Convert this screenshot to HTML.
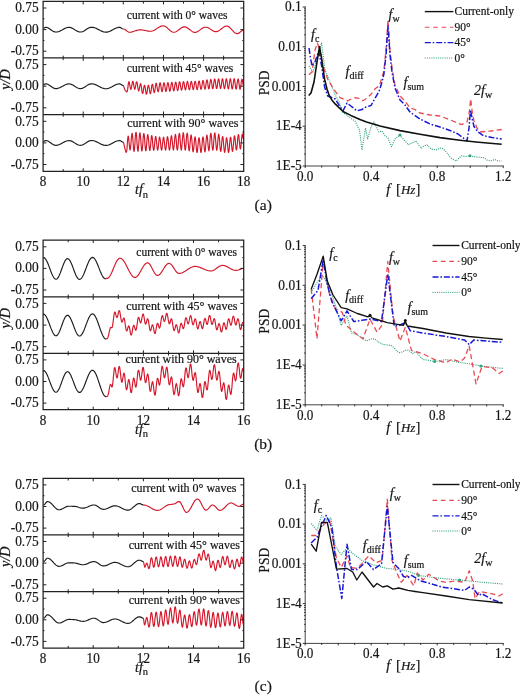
<!DOCTYPE html>
<html lang="en">
<head>
<meta charset="utf-8">
<title>Figure: y/D time histories and PSD</title>
<style>
html,body{margin:0;padding:0;background:#fff;}
body{width:520px;height:696px;overflow:hidden;}
svg{display:block;filter:blur(0.5px);}
text{font-family:"Liberation Serif", "DejaVu Serif", serif;fill:#161616;stroke:#161616;stroke-width:0.2px;}
.t13{font-size:13.4px;}
.t115{font-size:11.5px;}
.t15{font-size:15.5px;}
</style>
</head>
<body>
<svg width="520" height="696" viewBox="0 0 520 696">
<rect width="520" height="696" fill="#ffffff"/>
<path d="M43.5 28.3L44.2 28L44.9 27.5L45.6 27.3L46.3 27.3L47 27.5L47.7 27.8L48.4 28.1L49.1 28.5L49.8 29L50.5 29.5L51.2 30L51.9 30.5L52.6 30.9L53.3 31.3L54 31.6L54.7 31.9L55.4 32L56.1 32L56.8 32L57.5 31.9L58.2 31.7L58.9 31.5L59.6 31.2L60.3 30.9L61 30.5L61.7 30.2L62.4 29.8L63.1 29.4L63.8 29L64.5 28.6L65.2 28.3L65.9 28L66.6 27.7L67.3 27.5L68 27.4L68.7 27.4L69.4 27.4L70.1 27.5L70.8 27.6L71.5 27.9L72.2 28.2L72.9 28.6L73.6 29L74.3 29.4L75 29.9L75.7 30.3L76.4 30.7L77.1 31.1L77.8 31.4L78.5 31.7L79.2 31.9L79.9 32L80.6 32L81.3 32L82 31.8L82.7 31.6L83.4 31.3L84.1 30.9L84.8 30.5L85.5 30L86.2 29.5L86.9 29L87.6 28.6L88.3 28.2L89 27.8L89.7 27.6L90.4 27.4L91.1 27.3L91.8 27.3L92.5 27.3L93.2 27.4L93.9 27.6L94.6 27.8L95.3 28L96 28.3L96.7 28.6L97.4 29L98.1 29.4L98.8 29.7L99.5 30.1L100.2 30.5L100.9 30.8L101.6 31.1L102.3 31.4L103 31.7L103.7 31.9L104.4 32L105.1 32.1L105.8 32.1L106.5 32.1L107.2 32.1L107.9 31.9L108.6 31.7L109.3 31.5L110 31.2L110.7 30.9L111.4 30.5L112.1 30.1L112.8 29.7L113.5 29.3L114.2 29L114.9 28.6L115.6 28.3L116.3 28L117 27.7L117.7 27.6L118.4 27.4L119.1 27.4L119.8 27.4L120.5 27.6L121.2 28L121.9 28.5L122.6 28.8L123.3 29L123.5 29" fill="none" stroke="#1c1c1c" stroke-width="1.15" stroke-linejoin="round"/>
<path d="M123.5 29L124.2 29.2L124.9 29.5L125.6 30L126.3 30.5L127 31.1L127.7 31.6L128.4 32L129.1 32.2L129.8 32.2L130.5 32.2L131.2 32.1L131.9 31.9L132.6 31.7L133.3 31.5L134 31.3L134.7 31L135.4 30.8L136.1 30.6L136.8 30.4L137.5 30.2L138.2 30L138.9 29.9L139.6 29.9L140.3 29.9L141 29.9L141.7 29.9L142.4 30L143.1 30.1L143.8 30.2L144.5 30.4L145.2 30.5L145.9 30.7L146.6 30.8L147.3 30.9L148 31.1L148.7 31.1L149.4 31.2L150.1 31.2L150.8 31.2L151.5 31.2L152.2 31L152.9 30.8L153.6 30.5L154.3 30.2L155 29.8L155.7 29.3L156.4 28.9L157.1 28.4L157.8 27.9L158.5 27.5L159.2 27.1L159.9 26.7L160.6 26.4L161.3 26.1L162 26L162.7 25.9L163.4 25.9L164.1 26L164.8 26.2L165.5 26.6L166.2 27L166.9 27.6L167.6 28.2L168.3 28.9L169 29.5L169.7 30.2L170.4 30.8L171.1 31.3L171.8 31.7L172.5 32L173.2 32.2L173.9 32.2L174.6 32.2L175.3 32L176 31.7L176.7 31.3L177.4 30.9L178.1 30.3L178.8 29.8L179.5 29.2L180.2 28.7L180.9 28.2L181.6 27.7L182.3 27.4L183 27.1L183.7 26.9L184.4 26.8L185.1 26.9L185.8 27.1L186.5 27.4L187.2 27.7L187.9 28.2L188.6 28.7L189.3 29.3L190 29.8L190.7 30.4L191.4 30.9L192.1 31.4L192.8 31.8L193.5 32.1L194.2 32.3L194.9 32.3L195.6 32.3L196.3 32.2L197 31.9L197.7 31.5L198.4 31.1L199.1 30.6L199.8 30.1L200.5 29.6L201.2 29L201.9 28.5L202.6 28.1L203.3 27.7L204 27.4L204.7 27.2L205.4 27.2L206.1 27.2L206.8 27.3L207.5 27.5L208.2 27.8L208.9 28.2L209.6 28.6L210.3 29.1L211 29.6L211.7 30L212.4 30.5L213.1 30.9L213.8 31.2L214.5 31.4L215.2 31.6L215.9 31.6L216.6 31.6L217.3 31.4L218 31.2L218.7 30.8L219.4 30.4L220.1 29.9L220.8 29.3L221.5 28.7L222.2 28.2L222.9 27.6L223.6 27.1L224.3 26.7L225 26.4L225.7 26.2L226.4 26.1L227.1 26.1L227.8 26.3L228.5 26.6L229.2 27L229.9 27.6L230.6 28.3L231.3 29.1L232 29.9L232.7 30.6L233.4 31.4L234.1 32.1L234.8 32.7L235.5 33.1L236.2 33.4L236.9 33.6L237.6 33.6L238.3 33.4L239 33.1L239.7 32.5L240.4 31.9L241.1 31.3L241.8 30.8L242.5 30.4L243.2 30.1L243.7 30" fill="none" stroke="#d4162a" stroke-width="1.15" stroke-linejoin="round"/>
<path d="M43.5 84.9L44.2 84.6L44.9 84L45.6 83.8L46.3 83.9L47 84L47.7 84.3L48.4 84.6L49.1 85.1L49.8 85.5L50.5 86L51.2 86.5L51.9 87L52.6 87.5L53.3 87.9L54 88.2L54.7 88.4L55.4 88.6L56.1 88.6L56.8 88.6L57.5 88.4L58.2 88.3L58.9 88L59.6 87.8L60.3 87.4L61 87.1L61.7 86.7L62.4 86.3L63.1 85.9L63.8 85.5L64.5 85.2L65.2 84.8L65.9 84.5L66.6 84.3L67.3 84.1L68 84L68.7 83.9L69.4 83.9L70.1 84L70.8 84.2L71.5 84.4L72.2 84.7L72.9 85.1L73.6 85.5L74.3 86L75 86.4L75.7 86.9L76.4 87.3L77.1 87.7L77.8 88L78.5 88.3L79.2 88.5L79.9 88.6L80.6 88.6L81.3 88.5L82 88.4L82.7 88.1L83.4 87.8L84.1 87.4L84.8 87L85.5 86.5L86.2 86.1L86.9 85.6L87.6 85.1L88.3 84.7L89 84.4L89.7 84.1L90.4 83.9L91.1 83.8L91.8 83.8L92.5 83.9L93.2 84L93.9 84.1L94.6 84.3L95.3 84.6L96 84.9L96.7 85.2L97.4 85.5L98.1 85.9L98.8 86.3L99.5 86.6L100.2 87L100.9 87.4L101.6 87.7L102.3 88L103 88.2L103.7 88.4L104.4 88.6L105.1 88.7L105.8 88.7L106.5 88.7L107.2 88.6L107.9 88.5L108.6 88.3L109.3 88L110 87.7L110.7 87.4L111.4 87L112.1 86.7L112.8 86.3L113.5 85.9L114.2 85.5L114.9 85.1L115.6 84.8L116.3 84.5L117 84.3L117.7 84.1L118.4 84L119.1 83.9L119.8 83.9L120.5 84.1L121.2 84.6L121.9 85L122.6 85.4L123.3 85.6L123.5 85.6" fill="none" stroke="#1c1c1c" stroke-width="1.15" stroke-linejoin="round"/>
<path d="M123.1 85.6L123.4 85.8L123.7 86.2L123.9 86.9L124.2 87.7L124.5 88.6L124.8 89.4L125.1 90.1L125.3 90.6L125.6 90.9L125.9 91.1L126.2 91.3L126.5 91.6L126.7 91.9L127 91.8L127.3 91.1L127.6 89.7L127.9 87.7L128.1 85.4L128.4 83.4L128.7 82.1L129 81.7L129.3 82.3L129.5 83.6L129.8 85.2L130.1 86.9L130.4 88.4L130.7 89.2L130.9 89.4L131.2 88.7L131.5 87.4L131.8 85.7L132.1 83.9L132.3 82.4L132.6 81.5L132.9 81.3L133.2 81.9L133.4 83.2L133.7 84.9L134 86.7L134.3 88.2L134.6 89.1L134.8 89.3L135.1 88.6L135.4 87.4L135.7 85.7L136 83.9L136.2 82.5L136.5 81.7L136.8 81.7L137.1 82.5L137.4 84L137.6 86L137.9 88L138.2 89.7L138.5 90.8L138.8 91L139 90.4L139.3 89.2L139.6 87.5L139.9 85.7L140.2 84.3L140.4 83.6L140.7 83.7L141 84.7L141.3 86.3L141.6 88.4L141.8 90.5L142.1 92.2L142.4 93.3L142.7 93.4L143 92.7L143.2 91.3L143.5 89.4L143.8 87.6L144.1 86.1L144.4 85.3L144.6 85.3L144.9 86.2L145.2 87.8L145.5 89.8L145.8 91.8L146 93.3L146.3 94.2L146.6 94.2L146.9 93.2L147.2 91.6L147.4 89.6L147.7 87.6L148 86.1L148.3 85.2L148.6 85.2L148.8 86.1L149.1 87.6L149.4 89.5L149.7 91.4L150 92.9L150.2 93.6L150.5 93.5L150.8 92.5L151.1 90.8L151.4 88.7L151.6 86.7L151.9 85.1L152.2 84.3L152.5 84.3L152.8 85.2L153 86.7L153.3 88.6L153.6 90.5L153.9 91.9L154.1 92.6L154.4 92.4L154.7 91.3L155 89.6L155.3 87.5L155.5 85.6L155.8 84L156.1 83.2L156.4 83.3L156.7 84.3L156.9 85.9L157.2 87.8L157.5 89.7L157.8 91.1L158.1 91.8L158.3 91.6L158.6 90.5L158.9 88.8L159.2 86.8L159.5 84.9L159.7 83.4L160 82.7L160.3 82.9L160.6 84L160.9 85.7L161.1 87.7L161.4 89.6L161.7 91L162 91.7L162.3 91.4L162.5 90.3L162.8 88.6L163.1 86.6L163.4 84.7L163.7 83.3L163.9 82.7L164.2 82.9L164.5 84L164.8 85.7L165.1 87.7L165.3 89.6L165.6 90.9L165.9 91.5L166.2 91.2L166.5 90.1L166.7 88.4L167 86.4L167.3 84.5L167.6 83.1L167.9 82.5L168.1 82.8L168.4 83.9L168.7 85.6L169 87.6L169.3 89.4L169.5 90.7L169.8 91.3L170.1 90.9L170.4 89.8L170.7 88L170.9 86L171.2 84.2L171.5 82.8L171.8 82.3L172.1 82.6L172.3 83.8L172.6 85.5L172.9 87.4L173.2 89.2L173.4 90.5L173.7 90.9L174 90.5L174.3 89.3L174.6 87.6L174.8 85.6L175.1 83.8L175.4 82.5L175.7 82L176 82.4L176.2 83.6L176.5 85.3L176.8 87.2L177.1 89L177.4 90.2L177.6 90.6L177.9 90.1L178.2 88.9L178.5 87.1L178.8 85.2L179 83.4L179.3 82.2L179.6 81.8L179.9 82.2L180.2 83.4L180.4 85.1L180.7 87L181 88.7L181.3 89.8L181.6 90.2L181.8 89.7L182.1 88.5L182.4 86.7L182.7 84.8L183 83.1L183.2 81.9L183.5 81.6L183.8 82L184.1 83.2L184.4 85L184.6 86.8L184.9 88.5L185.2 89.6L185.5 89.9L185.8 89.4L186 88.1L186.3 86.4L186.6 84.5L186.9 82.8L187.2 81.7L187.4 81.4L187.7 81.9L188 83.2L188.3 84.9L188.6 86.8L188.8 88.4L189.1 89.5L189.4 89.7L189.7 89.2L190 87.9L190.2 86.1L190.5 84.3L190.8 82.6L191.1 81.6L191.4 81.3L191.6 81.9L191.9 83.2L192.2 84.9L192.5 86.8L192.8 88.4L193 89.4L193.3 89.7L193.6 89.1L193.9 87.8L194.1 86L194.4 84.1L194.7 82.5L195 81.5L195.3 81.3L195.5 81.9L195.8 83.2L196.1 85L196.4 86.8L196.7 88.4L196.9 89.4L197.2 89.6L197.5 88.9L197.8 87.5L198.1 85.7L198.3 83.8L198.6 82.2L198.9 81.2L199.2 81L199.5 81.6L199.7 83L200 84.8L200.3 86.7L200.6 88.3L200.9 89.2L201.1 89.4L201.4 88.6L201.7 87.2L202 85.3L202.3 83.3L202.5 81.6L202.8 80.6L203.1 80.5L203.4 81.2L203.7 82.6L203.9 84.5L204.2 86.5L204.5 88.1L204.8 89L205.1 89.1L205.3 88.3L205.6 86.8L205.9 84.8L206.2 82.7L206.5 81L206.7 80L207 79.9L207.3 80.7L207.6 82.2L207.9 84.2L208.1 86.2L208.4 87.9L208.7 88.8L209 88.8L209.3 87.9L209.5 86.3L209.8 84.2L210.1 82.1L210.4 80.4L210.7 79.5L210.9 79.4L211.2 80.3L211.5 81.9L211.8 84L212.1 86L212.3 87.7L212.6 88.6L212.9 88.6L213.2 87.6L213.4 85.9L213.7 83.8L214 81.7L214.3 80L214.6 79L214.8 79.1L215.1 80L215.4 81.7L215.7 83.9L216 86L216.2 87.6L216.5 88.5L216.8 88.5L217.1 87.4L217.4 85.7L217.6 83.5L217.9 81.4L218.2 79.8L218.5 78.9L218.8 79L219 80L219.3 81.8L219.6 83.9L219.9 86L220.2 87.7L220.4 88.5L220.7 88.4L221 87.4L221.3 85.6L221.6 83.4L221.8 81.3L222.1 79.7L222.4 78.8L222.7 79L223 80.1L223.2 81.9L223.5 84.1L223.8 86.2L224.1 87.9L224.4 88.7L224.6 88.5L224.9 87.4L225.2 85.6L225.5 83.3L225.8 81.2L226 79.6L226.3 78.8L226.6 79L226.9 80.2L227.2 82.1L227.4 84.3L227.7 86.5L228 88.1L228.3 88.9L228.6 88.7L228.8 87.5L229.1 85.5L229.4 83.3L229.7 81.1L230 79.5L230.2 78.7L230.5 79L230.8 80.3L231.1 82.2L231.4 84.5L231.6 86.7L231.9 88.3L232.2 89L232.5 88.7L232.8 87.5L233 85.5L233.3 83.2L233.6 81L233.9 79.4L234.1 78.7L234.4 79L234.7 80.3L235 82.4L235.3 84.7L235.5 86.8L235.8 88.4L236.1 89.1L236.4 88.7L236.7 87.4L236.9 85.4L237.2 83.1L237.5 81L237.8 79.5L238.1 78.9L238.3 79.3L238.6 80.6L238.9 82.7L239.2 84.9L239.5 87.1L239.7 88.6L240 89.2L240.3 88.8L240.6 87.4L240.9 85.5L241.1 83.2L241.4 81.2L241.7 79.7L242 79.2L242.3 79.6L242.5 81L242.8 83L243.1 85.2" fill="none" stroke="#d4162a" stroke-width="1.15" stroke-linejoin="round"/>
<path d="M43.5 141.6L44.2 141.3L44.9 140.7L45.6 140.5L46.3 140.6L47 140.7L47.7 141L48.4 141.3L49.1 141.8L49.8 142.2L50.5 142.7L51.2 143.2L51.9 143.7L52.6 144.2L53.3 144.6L54 144.9L54.7 145.1L55.4 145.3L56.1 145.3L56.8 145.3L57.5 145.1L58.2 145L58.9 144.7L59.6 144.5L60.3 144.1L61 143.8L61.7 143.4L62.4 143L63.1 142.6L63.8 142.2L64.5 141.9L65.2 141.5L65.9 141.2L66.6 141L67.3 140.8L68 140.7L68.7 140.6L69.4 140.6L70.1 140.7L70.8 140.9L71.5 141.1L72.2 141.4L72.9 141.8L73.6 142.2L74.3 142.7L75 143.1L75.7 143.6L76.4 144L77.1 144.4L77.8 144.7L78.5 145L79.2 145.2L79.9 145.3L80.6 145.3L81.3 145.2L82 145.1L82.7 144.8L83.4 144.5L84.1 144.1L84.8 143.7L85.5 143.2L86.2 142.8L86.9 142.3L87.6 141.8L88.3 141.4L89 141.1L89.7 140.8L90.4 140.6L91.1 140.5L91.8 140.5L92.5 140.6L93.2 140.7L93.9 140.8L94.6 141L95.3 141.3L96 141.6L96.7 141.9L97.4 142.2L98.1 142.6L98.8 143L99.5 143.3L100.2 143.7L100.9 144.1L101.6 144.4L102.3 144.7L103 144.9L103.7 145.1L104.4 145.3L105.1 145.4L105.8 145.4L106.5 145.4L107.2 145.3L107.9 145.2L108.6 145L109.3 144.7L110 144.4L110.7 144.1L111.4 143.7L112.1 143.4L112.8 143L113.5 142.6L114.2 142.2L114.9 141.8L115.6 141.5L116.3 141.2L117 141L117.7 140.8L118.4 140.7L119.1 140.6L119.8 140.6L120.5 140.8L121.2 141.3L121.9 141.7L122.6 142.1L123.3 142.3L123.5 142.3" fill="none" stroke="#1c1c1c" stroke-width="1.15" stroke-linejoin="round"/>
<path d="M123.1 142.3L123.4 142.5L123.7 143.2L123.9 144.1L124.2 145.3L124.5 146.7L124.8 148.1L125.1 149.3L125.4 150.3L125.6 151.1L125.9 151.9L126.2 152.3L126.5 152L126.8 150.4L127.1 147.6L127.3 143.8L127.6 140L127.9 137.2L128.2 136L128.5 136.7L128.7 138.8L129 141.8L129.3 144.9L129.6 147.7L129.9 149.5L130.2 149.9L130.4 148.8L130.7 146.3L131 142.8L131.3 139.1L131.6 135.8L131.9 133.7L132.1 133.2L132.4 134.5L132.7 137.4L133 141.2L133.3 145.4L133.5 148.9L133.8 151L134.1 151.3L134.4 149.7L134.7 146.5L135 142.4L135.2 138.1L135.5 134.7L135.8 132.6L136.1 132.4L136.4 134.1L136.7 137.3L136.9 141.4L137.2 145.6L137.5 149L137.8 151L138.1 151.2L138.3 149.5L138.6 146.3L138.9 142.3L139.2 138.2L139.5 134.8L139.8 132.9L140 132.8L140.3 134.6L140.6 137.8L140.9 141.8L141.2 145.8L141.5 149.1L141.7 150.9L142 151L142.3 149.3L142.6 146.2L142.9 142.3L143.1 138.4L143.4 135.3L143.7 133.6L144 133.7L144.3 135.4L144.6 138.5L144.8 142.3L145.1 146.1L145.4 149.1L145.7 150.8L146 150.7L146.3 149.1L146.5 146.1L146.8 142.5L147.1 138.9L147.4 136.1L147.7 134.6L147.9 134.7L148.2 136.4L148.5 139.3L148.8 142.8L149.1 146.3L149.4 149.1L149.6 150.5L149.9 150.5L150.2 148.9L150.5 146.1L150.8 142.7L151.1 139.5L151.3 136.9L151.6 135.6L151.9 135.8L152.2 137.4L152.5 140.1L152.7 143.4L153 146.6L153.3 149L153.6 150.3L153.9 150.2L154.2 148.7L154.4 146.1L154.7 143L155 140L155.3 137.6L155.6 136.5L155.9 136.7L156.1 138.2L156.4 140.8L156.7 143.8L157 146.8L157.3 149L157.5 150.2L157.8 150L158.1 148.5L158.4 146L158.7 143.1L159 140.3L159.2 138.1L159.5 137L159.8 137.3L160.1 138.8L160.4 141.2L160.7 144.1L160.9 146.9L161.2 149L161.5 150.1L161.8 149.9L162.1 148.4L162.3 146L162.6 143.1L162.9 140.3L163.2 138.2L163.5 137.2L163.8 137.5L164 139L164.3 141.4L164.6 144.3L164.9 147L165.2 149.1L165.5 150.1L165.7 149.8L166 148.3L166.3 145.8L166.6 142.8L166.9 140L167.1 137.8L167.4 136.7L167.7 137L168 138.6L168.3 141.1L168.6 144.1L168.8 147L169.1 149.1L169.4 150.1L169.7 149.7L170 148L170.3 145.3L170.5 142.1L170.8 139.1L171.1 136.8L171.4 135.7L171.7 136L171.9 137.7L172.2 140.5L172.5 143.7L172.8 146.8L173.1 149.1L173.4 150.1L173.6 149.6L173.9 147.7L174.2 144.7L174.5 141.2L174.8 138L175.1 135.5L175.3 134.4L175.6 134.8L175.9 136.8L176.2 139.8L176.5 143.4L176.7 146.7L177 149.1L177.3 150.1L177.6 149.5L177.9 147.4L178.2 144.1L178.4 140.4L178.7 136.9L179 134.3L179.3 133.3L179.6 133.8L179.9 136L180.1 139.3L180.4 143.1L180.7 146.6L181 149.1L181.3 150.1L181.5 149.4L181.8 147.1L182.1 143.7L182.4 139.8L182.7 136.2L183 133.7L183.2 132.7L183.5 133.4L183.8 135.8L184.1 139.2L184.4 143.1L184.7 146.7L184.9 149.2L185.2 150.2L185.5 149.4L185.8 147L186.1 143.6L186.3 139.8L186.6 136.3L186.9 133.9L187.2 133.1L187.5 134L187.8 136.5L188 140L188.3 143.9L188.6 147.4L188.9 149.9L189.2 150.8L189.5 150L189.7 147.7L190 144.4L190.3 140.8L190.6 137.6L190.9 135.5L191.1 134.9L191.4 135.9L191.7 138.3L192 141.7L192.3 145.4L192.6 148.7L192.8 151L193.1 151.8L193.4 151L193.7 148.8L194 145.7L194.3 142.3L194.5 139.3L194.8 137.4L195.1 136.8L195.4 137.8L195.7 140.1L195.9 143.3L196.2 146.8L196.5 149.8L196.8 151.9L197.1 152.5L197.4 151.7L197.6 149.5L197.9 146.4L198.2 143.1L198.5 140.2L198.8 138.2L199.1 137.7L199.3 138.6L199.6 140.8L199.9 143.9L200.2 147.2L200.5 150.1L200.7 152L201 152.5L201.3 151.5L201.6 149.2L201.9 146L202.2 142.6L202.4 139.5L202.7 137.5L203 136.9L203.3 137.8L203.6 140L203.9 143.2L204.1 146.6L204.4 149.5L204.7 151.4L205 151.8L205.3 150.7L205.5 148.1L205.8 144.7L206.1 141L206.4 137.8L206.7 135.7L207 135.1L207.2 136.1L207.5 138.5L207.8 141.8L208.1 145.4L208.4 148.5L208.7 150.4L208.9 150.8L209.2 149.5L209.5 146.8L209.8 143.1L210.1 139.3L210.3 136L210.6 133.8L210.9 133.3L211.2 134.5L211.5 137.1L211.8 140.7L212 144.5L212.3 147.8L212.6 149.8L212.9 150.1L213.2 148.8L213.5 146L213.7 142.2L214 138.4L214.3 135.1L214.6 133.1L214.9 132.8L215.1 134.2L215.4 137L215.7 140.8L216 144.7L216.3 147.9L216.6 149.9L216.8 150.3L217.1 149L217.4 146.2L217.7 142.7L218 139L218.3 136L218.5 134.2L218.8 134.1L219.1 135.7L219.4 138.6L219.7 142.3L219.9 146L220.2 149.1L220.5 151L220.8 151.3L221.1 150L221.4 147.5L221.6 144.1L221.9 140.8L222.2 138L222.5 136.5L222.8 136.5L223.1 138L223.3 140.7L223.6 144.2L223.9 147.6L224.2 150.5L224.5 152.1L224.7 152.3L225 151L225.3 148.5L225.6 145.3L225.9 142L226.2 139.4L226.4 137.9L226.7 137.8L227 139.2L227.3 141.7L227.6 145L227.9 148.2L228.1 150.9L228.4 152.4L228.7 152.4L229 150.9L229.3 148.3L229.5 145L229.8 141.7L230.1 139L230.4 137.4L230.7 137.3L231 138.7L231.2 141.2L231.5 144.4L231.8 147.5L232.1 150.1L232.4 151.4L232.7 151.3L232.9 149.7L233.2 147L233.5 143.6L233.8 140.2L234.1 137.5L234.3 136L234.6 135.9L234.9 137.3L235.2 139.9L235.5 143L235.8 146.2L236 148.6L236.3 149.9L236.6 149.7L236.9 148.1L237.2 145.3L237.5 142L237.7 138.6L238 136L238.3 134.6L238.6 134.6L238.9 136.1L239.1 138.7L239.4 141.9L239.7 145.1L240 147.6L240.3 148.9L240.6 148.7L240.8 147.1L241.1 144.4L241.4 141L241.7 137.8L242 135.3L242.3 134L242.5 134.2L242.8 135.9L243.1 138.6" fill="none" stroke="#d4162a" stroke-width="1.15" stroke-linejoin="round"/>
<path d="M43.1 1.4H243.7V171.3H43.1ZM43.1 57.9H243.7M43.1 114.5H243.7" fill="none" stroke="#222222" stroke-width="1.25"/>
<path d="M43.1 8h3.3M243.7 8h-3.3M43.1 18.8h1.4M243.7 18.8h-1.4M43.1 29.6h3.3M243.7 29.6h-3.3M43.1 40.5h1.4M243.7 40.5h-1.4M43.1 51.2h3.3M243.7 51.2h-3.3M63.2 1.4v2.2M63.2 57.9v-2.2M83.2 1.4v3M83.2 57.9v-3M103.3 1.4v2.2M103.3 57.9v-2.2M123.3 1.4v3M123.3 57.9v-3M143.4 1.4v2.2M143.4 57.9v-2.2M163.5 1.4v3M163.5 57.9v-3M183.5 1.4v2.2M183.5 57.9v-2.2M203.6 1.4v3M203.6 57.9v-3M223.6 1.4v2.2M223.6 57.9v-2.2M43.1 64.6h3.3M243.7 64.6h-3.3M43.1 75.4h1.4M243.7 75.4h-1.4M43.1 86.2h3.3M243.7 86.2h-3.3M43.1 97h1.4M243.7 97h-1.4M43.1 107.8h3.3M243.7 107.8h-3.3M63.2 57.9v2.2M63.2 114.5v-2.2M83.2 57.9v3M83.2 114.5v-3M103.3 57.9v2.2M103.3 114.5v-2.2M123.3 57.9v3M123.3 114.5v-3M143.4 57.9v2.2M143.4 114.5v-2.2M163.5 57.9v3M163.5 114.5v-3M183.5 57.9v2.2M183.5 114.5v-2.2M203.6 57.9v3M203.6 114.5v-3M223.6 57.9v2.2M223.6 114.5v-2.2M43.1 121.3h3.3M243.7 121.3h-3.3M43.1 132.1h1.4M243.7 132.1h-1.4M43.1 142.9h3.3M243.7 142.9h-3.3M43.1 153.7h1.4M243.7 153.7h-1.4M43.1 164.5h3.3M243.7 164.5h-3.3M63.2 114.5v2.2M63.2 171.3v-2.2M83.2 114.5v3M83.2 171.3v-3M103.3 114.5v2.2M103.3 171.3v-2.2M123.3 114.5v3M123.3 171.3v-3M143.4 114.5v2.2M143.4 171.3v-2.2M163.5 114.5v3M163.5 171.3v-3M183.5 114.5v2.2M183.5 171.3v-2.2M203.6 114.5v3M203.6 171.3v-3M223.6 114.5v2.2M223.6 171.3v-2.2" fill="none" stroke="#222222" stroke-width="1"/>
<text transform="translate(38.6 12.2) scale(0.95 1)" text-anchor="end" font-size="14.1">0.75</text>
<text transform="translate(38.6 33.6) scale(0.95 1)" text-anchor="end" font-size="14.1">0.00</text>
<text transform="translate(38.6 55.4) scale(0.95 1)" text-anchor="end" font-size="14.1">-0.75</text>
<text transform="translate(38.6 68.8) scale(0.95 1)" text-anchor="end" font-size="14.1">0.75</text>
<text transform="translate(38.6 90.2) scale(0.95 1)" text-anchor="end" font-size="14.1">0.00</text>
<text transform="translate(38.6 111.9) scale(0.95 1)" text-anchor="end" font-size="14.1">-0.75</text>
<text transform="translate(38.6 125.5) scale(0.95 1)" text-anchor="end" font-size="14.1">0.75</text>
<text transform="translate(38.6 146.9) scale(0.95 1)" text-anchor="end" font-size="14.1">0.00</text>
<text transform="translate(38.6 168.6) scale(0.95 1)" text-anchor="end" font-size="14.1">-0.75</text>
<text transform="translate(43.1 186) scale(0.935 1)" text-anchor="middle" font-size="14.1">8</text>
<text transform="translate(83.2 186) scale(0.935 1)" text-anchor="middle" font-size="14.1">10</text>
<text transform="translate(123.3 186) scale(0.935 1)" text-anchor="middle" font-size="14.1">12</text>
<text transform="translate(163.5 186) scale(0.935 1)" text-anchor="middle" font-size="14.1">14</text>
<text transform="translate(203.6 186) scale(0.935 1)" text-anchor="middle" font-size="14.1">16</text>
<text transform="translate(243.7 186) scale(0.935 1)" text-anchor="middle" font-size="14.1">18</text>
<text x="126.8" y="18.8" font-size="11.5">current with 0° waves</text>
<text x="126.8" y="71.8" font-size="11.5">current with 45° waves</text>
<text x="127.3" y="127.2" font-size="12">current with 90° waves</text>
<text x="135" y="194.4" font-size="14"><tspan font-style="italic">tf</tspan><tspan dy="3.2" font-size="10.5">n</tspan></text>
<text transform="translate(9.8 79.6) rotate(-90)" text-anchor="middle" font-size="14.2" font-style="italic">y/D</text>
<path d="M43.5 257.6L44.2 257.8L44.9 258.3L45.6 259.1L46.3 260.2L47 261.5L47.7 263.1L48.4 264.8L49.1 266.6L49.8 268.5L50.5 270.4L51.2 272.2L51.9 274L52.6 275.5L53.3 276.8L54 277.9L54.7 278.6L55.4 279.1L56.1 279.2L56.8 279L57.5 278.3L58.2 277.4L58.9 276.1L59.6 274.6L60.3 272.9L61 271L61.7 269L62.4 267.1L63.1 265.2L63.8 263.4L64.5 261.9L65.2 260.6L65.9 259.6L66.6 258.9L67.3 258.6L68 258.7L68.7 259.1L69.4 259.9L70.1 260.9L70.8 262.2L71.5 263.8L72.2 265.5L72.9 267.4L73.6 269.3L74.3 271.2L75 273L75.7 274.7L76.4 276.2L77.1 277.4L77.8 278.4L78.5 279L79.2 279.4L79.9 279.3L80.6 279L81.3 278.4L82 277.5L82.7 276.3L83.4 274.9L84.1 273.3L84.8 271.5L85.5 269.7L86.2 267.9L86.9 266L87.6 264.3L88.3 262.6L89 261.1L89.7 259.8L90.4 258.8L91.1 258L91.8 257.6L92.5 257.4L93.2 257.6L93.9 258L94.6 258.7L95.3 259.8L96 261L96.7 262.5L97.4 264.1L98.1 265.8L98.8 267.6L99.5 269.4L100.2 271.2L100.9 272.8L101.6 274.4L102.3 275.8L103 276.9L103.7 277.8L104.4 278.4L105.1 278.8L105.8 278.7L106 278.6" fill="none" stroke="#1c1c1c" stroke-width="1.15" stroke-linejoin="round"/>
<path d="M106 278.6L106.7 278.4L107.4 278.4L108.1 278L108.8 277.5L109.5 276.6L110.2 275.5L110.9 274.2L111.6 272.8L112.3 271.2L113 269.5L113.7 267.8L114.4 266.1L115.1 264.5L115.8 263L116.5 261.6L117.2 260.4L117.9 259.5L118.6 258.8L119.3 258.3L120 258.2L120.7 258.3L121.4 258.6L122.1 259.1L122.8 259.8L123.5 260.7L124.2 261.7L124.9 262.8L125.6 264.1L126.3 265.4L127 266.8L127.7 268.2L128.4 269.6L129.1 271L129.8 272.2L130.5 273.4L131.2 274.5L131.9 275.4L132.6 276.2L133.3 276.8L134 277.2L134.7 277.4L135.4 277.4L136.1 277.1L136.8 276.7L137.5 276L138.2 275.2L138.9 274.2L139.6 273L140.3 271.8L141 270.6L141.7 269.3L142.4 268L143.1 266.8L143.8 265.7L144.5 264.8L145.2 264L145.9 263.4L146.6 263L147.3 262.8L148 262.9L148.7 263.2L149.4 263.9L150.1 264.8L150.8 265.9L151.5 267.2L152.2 268.5L152.9 269.9L153.6 271.2L154.3 272.5L155 273.6L155.7 274.4L156.4 275L157.1 275.4L157.8 275.4L158.5 275.2L159.2 274.8L159.9 274.2L160.6 273.4L161.3 272.4L162 271.4L162.7 270.3L163.4 269.2L164.1 268L164.8 266.9L165.5 265.9L166.2 265.1L166.9 264.4L167.6 263.8L168.3 263.5L169 263.4L169.7 263.5L170.4 263.9L171.1 264.4L171.8 265.2L172.5 266.1L173.2 267.2L173.9 268.2L174.6 269.3L175.3 270.4L176 271.3L176.7 272.2L177.4 272.8L178.1 273.2L178.8 273.4L179.5 273.4L180.2 273.3L180.9 273.2L181.6 273L182.3 272.7L183 272.4L183.7 272L184.4 271.6L185.1 271.2L185.8 270.7L186.5 270.2L187.2 269.8L187.9 269.3L188.6 268.8L189.3 268.4L190 268L190.7 267.6L191.4 267.2L192.1 267L192.8 266.7L193.5 266.6L194.2 266.4L194.9 266.4L195.6 266.4L196.3 266.5L197 266.6L197.7 266.7L198.4 266.9L199.1 267.1L199.8 267.3L200.5 267.6L201.2 267.9L201.9 268.2L202.6 268.5L203.3 268.8L204 269.1L204.7 269.5L205.4 269.7L206.1 270L206.8 270.3L207.5 270.5L208.2 270.7L208.9 270.8L209.6 270.9L210.3 271L211 271L211.7 270.9L212.4 270.8L213.1 270.6L213.8 270.2L214.5 269.8L215.2 269.4L215.9 268.8L216.6 268.3L217.3 267.8L218 267.3L218.7 266.8L219.4 266.3L220.1 266L220.8 265.7L221.5 265.5L222.2 265.4L222.9 265.4L223.6 265.5L224.3 265.6L225 265.8L225.7 266.1L226.4 266.4L227.1 266.7L227.8 267.1L228.5 267.5L229.2 267.9L229.9 268.3L230.6 268.7L231.3 269L232 269.4L232.7 269.7L233.4 270L234.1 270.2L234.8 270.3L235.5 270.4L236.2 270.4L236.9 270.3L237.6 270.2L238.3 270L239 269.7L239.7 269.4L240.4 269.1L241.1 268.9L241.8 268.6L242.5 268.5L243.2 268.4L243.5 268.4" fill="none" stroke="#d4162a" stroke-width="1.15" stroke-linejoin="round"/>
<path d="M43.5 314.2L44.2 314.4L44.9 314.9L45.6 315.7L46.3 316.8L47 318.2L47.7 319.7L48.4 321.5L49.1 323.3L49.8 325.2L50.5 327.1L51.2 328.9L51.9 330.6L52.6 332.1L53.3 333.5L54 334.5L54.7 335.3L55.4 335.7L56.1 335.8L56.8 335.6L57.5 335L58.2 334L58.9 332.8L59.6 331.3L60.3 329.5L61 327.6L61.7 325.7L62.4 323.7L63.1 321.8L63.8 320.1L64.5 318.5L65.2 317.2L65.9 316.2L66.6 315.6L67.3 315.3L68 315.3L68.7 315.8L69.4 316.5L70.1 317.6L70.8 318.9L71.5 320.5L72.2 322.2L72.9 324L73.6 325.9L74.3 327.8L75 329.6L75.7 331.3L76.4 332.8L77.1 334.1L77.8 335L78.5 335.7L79.2 336L79.9 336L80.6 335.7L81.3 335L82 334.1L82.7 332.9L83.4 331.5L84.1 329.9L84.8 328.1L85.5 326.3L86.2 324.4L86.9 322.6L87.6 320.8L88.3 319.1L89 317.6L89.7 316.3L90.4 315.2L91.1 314.5L91.8 314L92.5 313.9L93.2 314L93.9 314.5L94.6 315.3L95.3 316.4L96 317.7L96.7 319.3L97.4 321.1L98.1 323L98.8 325L99.5 327L100.2 329.1L100.9 331L101.6 332.8L102.3 334.5L103 336L103.7 337.2L104.4 338.1L105.1 338.7L105.8 339L106.1 339.1" fill="none" stroke="#1c1c1c" stroke-width="1.15" stroke-linejoin="round"/>
<path d="M105.6 339.1L105.9 339L106.3 338.8L106.6 338.7L107 338.7L107.3 338.6L107.6 338.2L108 337.4L108.3 336.2L108.7 334.8L109 333.3L109.3 331.7L109.7 330.1L110 328.8L110.4 327.8L110.7 327.4L111 327.4L111.4 327.6L111.7 327.8L112.1 327.5L112.4 326.4L112.7 324.6L113.1 322.1L113.4 319.4L113.8 316.7L114.1 314.4L114.4 312.8L114.8 312.1L115.1 312.3L115.5 313.2L115.8 314.5L116.2 315.8L116.5 316.9L116.8 317.5L117.2 317.4L117.5 316.6L117.9 315.3L118.2 313.7L118.5 312.1L118.9 311L119.2 310.6L119.6 311L119.9 312.2L120.2 314.1L120.6 316.3L120.9 318.5L121.3 320.4L121.6 321.6L121.9 322.1L122.3 321.8L122.6 321L123 319.8L123.3 318.8L123.6 318.1L124 318.1L124.3 318.8L124.7 320.4L125 322.5L125.3 325L125.7 327.4L126 329.3L126.4 330.6L126.7 331L127 330.7L127.4 329.7L127.7 328.3L128.1 327L128.4 326.1L128.7 325.8L129.1 326.3L129.4 327.5L129.8 329.2L130.1 331.2L130.4 333.1L130.8 334.5L131.1 335.1L131.5 334.9L131.8 333.9L132.1 332.2L132.5 330.2L132.8 328.1L133.2 326.5L133.5 325.5L133.8 325.3L134.2 325.8L134.5 326.9L134.9 328.2L135.2 329.4L135.6 330.2L135.9 330.2L136.2 329.4L136.6 327.8L136.9 325.6L137.3 323.1L137.6 320.7L137.9 318.8L138.3 317.7L138.6 317.3L139 317.8L139.3 319L139.6 320.4L140 321.7L140.3 322.7L140.7 322.9L141 322.4L141.3 321.2L141.7 319.5L142 317.5L142.4 315.7L142.7 314.5L143 314L143.4 314.3L143.7 315.5L144.1 317.4L144.4 319.5L144.7 321.5L145.1 323.1L145.4 324L145.8 324.1L146.1 323.4L146.4 322.3L146.8 320.8L147.1 319.6L147.5 318.8L147.8 318.8L148.1 319.6L148.5 321.2L148.8 323.3L149.2 325.7L149.5 327.9L149.8 329.7L150.2 330.6L150.5 330.8L150.9 330.1L151.2 328.8L151.5 327.3L151.9 325.9L152.2 325L152.6 324.8L152.9 325.3L153.2 326.6L153.6 328.4L153.9 330.3L154.3 332L154.6 333.2L155 333.6L155.3 333.1L155.6 331.9L156 330L156.3 327.8L156.7 325.8L157 324.2L157.3 323.3L157.7 323.3L158 323.9L158.4 325L158.7 326.3L159 327.5L159.4 328.1L159.7 327.9L160.1 326.9L160.4 325.2L160.7 322.9L161.1 320.5L161.4 318.3L161.8 316.6L162.1 315.7L162.4 315.6L162.8 316.3L163.1 317.6L163.5 319.1L163.8 320.4L164.1 321.3L164.5 321.5L164.8 320.9L165.2 319.6L165.5 317.9L165.8 316.1L166.2 314.5L166.5 313.5L166.9 313.3L167.2 313.9L167.5 315.3L167.9 317.3L168.2 319.4L168.6 321.4L168.9 322.9L169.2 323.7L169.6 323.7L169.9 323L170.3 321.8L170.6 320.5L170.9 319.4L171.3 318.8L171.6 319L172 320L172.3 321.7L172.6 323.9L173 326.3L173.3 328.3L173.7 329.9L174 330.6L174.3 330.6L174.7 329.8L175 328.4L175.4 327L175.7 325.6L176.1 324.8L176.4 324.7L176.7 325.4L177.1 326.7L177.4 328.4L177.8 330.2L178.1 331.7L178.4 332.7L178.8 332.9L179.1 332.2L179.5 330.8L179.8 328.9L180.1 326.9L180.5 325.1L180.8 323.8L181.2 323.2L181.5 323.4L181.8 324.2L182.2 325.5L182.5 326.9L182.9 328.1L183.2 328.6L183.5 328.5L183.9 327.5L184.2 325.9L184.6 323.8L184.9 321.6L185.2 319.7L185.6 318.3L185.9 317.7L186.3 317.9L186.6 318.8L186.9 320.2L187.3 321.7L187.6 323L188 323.8L188.3 323.8L188.6 323.1L189 321.7L189.3 320L189.7 318.1L190 316.6L190.3 315.7L190.7 315.6L191 316.3L191.4 317.7L191.7 319.5L192 321.5L192.4 323.2L192.7 324.4L193.1 324.8L193.4 324.4L193.7 323.5L194.1 322.1L194.4 320.6L194.8 319.4L195.1 318.8L195.5 319L195.8 319.9L196.1 321.5L196.5 323.5L196.8 325.6L197.2 327.3L197.5 328.4L197.8 328.8L198.2 328.4L198.5 327.2L198.9 325.6L199.2 324L199.5 322.6L199.9 321.7L200.2 321.6L200.6 322.2L200.9 323.5L201.2 325.1L201.6 326.7L201.9 328L202.3 328.7L202.6 328.5L202.9 327.6L203.3 326L203.6 323.9L204 321.8L204.3 320L204.6 318.8L205 318.4L205.3 318.8L205.7 319.8L206 321.2L206.3 322.6L206.7 323.8L207 324.4L207.4 324.2L207.7 323.3L208 321.7L208.4 319.8L208.7 318L209.1 316.4L209.4 315.5L209.7 315.5L210.1 316.2L210.4 317.7L210.8 319.6L211.1 321.5L211.4 323.1L211.8 324.2L212.1 324.5L212.5 324L212.8 323L213.1 321.5L213.5 320.1L213.8 319.1L214.2 318.7L214.5 319L214.9 320.2L215.2 322.1L215.5 324.2L215.9 326.4L216.2 328.3L216.6 329.5L216.9 329.8L217.2 329.4L217.6 328.3L217.9 326.8L218.3 325.3L218.6 324.1L218.9 323.6L219.3 323.7L219.6 324.7L220 326.2L220.3 328.1L220.6 329.9L221 331.3L221.3 332L221.7 331.9L222 331L222.3 329.4L222.7 327.5L223 325.5L223.4 324L223.7 323L224 322.8L224.4 323.4L224.7 324.6L225.1 326.2L225.4 327.7L225.7 328.8L226.1 329.3L226.4 328.9L226.8 327.7L227.1 325.9L227.4 323.8L227.8 321.7L228.1 320L228.5 318.9L228.8 318.7L229.1 319.3L229.5 320.5L229.8 322.1L230.2 323.6L230.5 324.8L230.8 325.3L231.2 325L231.5 323.9L231.9 322.3L232.2 320.3L232.5 318.4L232.9 316.9L233.2 316.2L233.6 316.3L233.9 317.2L234.3 318.7L234.6 320.6L234.9 322.5L235.3 324.1L235.6 324.9L236 325L236.3 324.3L236.6 323.1L237 321.5L237.3 320.1L237.7 319L238 318.7L238.3 319.3L238.7 320.6L239 322.5L239.4 324.7L239.7 326.8L240 328.5L240.4 329.5L240.7 329.6L241.1 328.8L241.4 327.5L241.7 325.8L242.1 324.2L242.4 322.9L242.8 322.4L243.1 322.6" fill="none" stroke="#d4162a" stroke-width="1.15" stroke-linejoin="round"/>
<path d="M43.5 370.7L44.2 370.8L44.9 371.3L45.6 372.1L46.3 373.2L47 374.6L47.7 376.1L48.4 377.9L49.1 379.7L49.8 381.6L50.5 383.5L51.2 385.3L51.9 387L52.6 388.5L53.3 389.9L54 390.9L54.7 391.7L55.4 392.1L56.1 392.2L56.8 392L57.5 391.4L58.2 390.4L58.9 389.2L59.6 387.7L60.3 385.9L61 384L61.7 382.1L62.4 380.1L63.1 378.2L63.8 376.5L64.5 374.9L65.2 373.6L65.9 372.6L66.6 372L67.3 371.7L68 371.7L68.7 372.2L69.4 372.9L70.1 374L70.8 375.3L71.5 376.9L72.2 378.6L72.9 380.4L73.6 382.3L74.3 384.2L75 386L75.7 387.7L76.4 389.2L77.1 390.5L77.8 391.4L78.5 392.1L79.2 392.4L79.9 392.4L80.6 392.1L81.3 391.4L82 390.5L82.7 389.3L83.4 387.9L84.1 386.3L84.8 384.5L85.5 382.7L86.2 380.8L86.9 379L87.6 377.2L88.3 375.5L89 374L89.7 372.7L90.4 371.6L91.1 370.9L91.8 370.4L92.5 370.3L93.2 370.4L93.9 370.9L94.6 371.8L95.3 372.9L96 374.3L96.7 376L97.4 377.9L98.1 379.9L98.8 382L99.5 384.1L100.2 386.2L100.9 388.3L101.6 390.2L102.3 392L103 393.5L103.7 394.8L104.4 395.7L105.1 396.4L105.8 396.7L106.1 396.8" fill="none" stroke="#1c1c1c" stroke-width="1.15" stroke-linejoin="round"/>
<path d="M105.6 396.8L105.9 396.7L106.3 396.5L106.6 396.5L107 396.5L107.3 396.5L107.6 396.1L108 395.2L108.3 394L108.7 392.4L109 390.7L109.3 388.8L109.7 386.9L110 385.3L110.4 384.4L110.7 384.3L111 384.9L111.4 385.9L111.7 386.8L112.1 387L112.4 386.1L112.7 383.9L113.1 380.6L113.4 376.8L113.8 373.1L114.1 370.1L114.4 368.1L114.8 367.5L115.1 368.2L115.5 370L115.8 372.4L116.2 374.8L116.5 376.8L116.8 377.9L117.2 377.9L117.5 376.6L117.9 374.4L118.2 371.7L118.5 369.2L118.9 367.3L119.2 366.4L119.6 366.8L119.9 368.6L120.2 371.3L120.6 374.5L120.9 377.7L121.3 380.3L121.6 381.9L121.9 382.3L122.3 381.4L122.6 379.6L123 377.4L123.3 375.2L123.6 373.7L124 373.2L124.3 373.9L124.7 375.9L125 378.8L125.3 382.2L125.7 385.4L126 388L126.4 389.6L126.7 389.8L127 388.8L127.4 386.9L127.7 384.4L128.1 382L128.4 380.2L128.7 379.5L129.1 379.9L129.4 381.5L129.8 384.1L130.1 387L130.4 389.7L130.8 391.8L131.1 392.7L131.5 392.3L131.8 390.7L132.1 388.1L132.5 385L132.8 381.9L133.2 379.5L133.5 378.2L133.8 378L134.2 379L134.5 380.9L134.9 383.2L135.2 385.3L135.6 386.8L135.9 387.1L136.2 386.2L136.6 384.1L136.9 381L137.3 377.6L137.6 374.3L137.9 371.8L138.3 370.3L138.6 370.2L139 371.2L139.3 373.2L139.6 375.7L140 378L140.3 379.7L140.7 380.3L141 379.7L141.3 378L141.7 375.5L142 372.6L142.4 369.9L142.7 368L143 367.3L143.4 367.9L143.7 369.7L144.1 372.5L144.4 375.7L144.7 378.8L145.1 381.2L145.4 382.5L145.8 382.6L146.1 381.5L146.4 379.6L146.8 377.4L147.1 375.4L147.5 374.1L147.8 374L148.1 375.1L148.5 377.4L148.8 380.6L149.2 384.1L149.5 387.4L149.8 389.9L150.2 391.3L150.5 391.4L150.9 390.3L151.2 388.3L151.5 385.9L151.9 383.7L152.2 382.2L152.6 381.7L152.9 382.5L153.2 384.4L153.6 387.1L153.9 390.1L154.3 392.8L154.6 394.6L155 395.2L155.3 394.4L155.6 392.3L156 389.3L156.3 385.9L156.7 382.6L157 380.1L157.3 378.5L157.7 378.3L158 379.1L158.4 380.7L158.7 382.6L159 384.2L159.4 385.1L159.7 384.8L160.1 383.2L160.4 380.5L160.7 377L161.1 373.3L161.4 370L161.8 367.5L162.1 366.2L162.4 366.4L162.8 367.8L163.1 370.1L163.5 372.8L163.8 375.3L164.1 377.1L164.5 377.8L164.8 377.3L165.2 375.7L165.5 373.4L165.8 370.8L166.2 368.6L166.5 367.3L166.9 367.2L167.2 368.4L167.5 370.8L167.9 374.1L168.2 377.7L168.6 380.9L168.9 383.4L169.2 384.7L169.6 384.8L169.9 383.7L170.3 381.8L170.6 379.7L170.9 377.9L171.3 376.9L171.6 377.1L172 378.6L172.3 381.2L172.6 384.6L173 388.1L173.3 391.3L173.7 393.6L174 394.6L174.3 394.3L174.7 392.8L175 390.5L175.4 387.9L175.7 385.5L176.1 384L176.4 383.7L176.7 384.5L177.1 386.5L177.4 389.1L177.8 391.9L178.1 394.2L178.4 395.6L178.8 395.7L179.1 394.5L179.5 392.1L179.8 388.8L180.1 385.4L180.5 382.2L180.8 379.9L181.2 378.8L181.5 378.9L181.8 380.2L182.2 382.1L182.5 384.3L182.9 386L183.2 386.8L183.5 386.4L183.9 384.7L184.2 381.9L184.6 378.3L184.9 374.6L185.2 371.3L185.6 369L185.9 367.9L186.3 368.2L186.6 369.7L186.9 371.9L187.3 374.3L187.6 376.4L188 377.6L188.3 377.6L188.6 376.4L189 374.1L189.3 371.2L189.7 368.2L190 365.7L190.3 364.2L190.7 364L191 365.3L191.4 367.7L191.7 370.9L192 374.3L192.4 377.3L192.7 379.4L193.1 380.4L193.4 380.1L193.7 378.7L194.1 376.8L194.4 374.7L194.8 373.1L195.1 372.5L195.5 373.1L195.8 375.1L196.1 378.1L196.5 381.9L196.8 385.7L197.2 389L197.5 391.4L197.8 392.5L198.2 392.2L198.5 390.8L198.9 388.6L199.2 386.3L199.5 384.4L199.9 383.5L200.2 383.7L200.6 385.1L200.9 387.6L201.2 390.6L201.6 393.6L201.9 396.1L202.3 397.5L202.6 397.5L202.9 396.2L203.3 393.7L203.6 390.5L204 387.2L204.3 384.3L204.6 382.3L205 381.6L205.3 382.1L205.7 383.6L206 385.7L206.3 387.9L206.7 389.5L207 390L207.4 389.3L207.7 387.3L208 384.2L208.4 380.4L208.7 376.6L209.1 373.4L209.4 371.2L209.7 370.3L210.1 370.7L210.4 372.3L210.8 374.5L211.1 376.8L211.4 378.6L211.8 379.5L212.1 379.1L212.5 377.5L212.8 374.8L213.1 371.7L213.5 368.5L213.8 366.1L214.2 364.7L214.5 364.7L214.9 366.1L215.2 368.6L215.5 371.8L215.9 375.1L216.2 377.9L216.6 379.7L216.9 380.2L217.2 379.5L217.6 377.8L217.9 375.5L218.3 373.3L218.6 371.7L218.9 371.2L219.3 372L219.6 374.2L220 377.5L220.3 381.3L220.6 385.2L221 388.4L221.3 390.6L221.7 391.4L222 390.9L222.3 389.3L222.7 387.1L223 384.9L223.4 383.3L223.7 382.7L224 383.4L224.4 385.4L224.7 388.3L225.1 391.8L225.4 395.1L225.7 397.8L226.1 399.3L226.4 399.4L226.8 398L227.1 395.6L227.4 392.5L227.8 389.4L228.1 386.8L228.5 385.3L228.8 385L229.1 386L229.5 387.9L229.8 390.4L230.2 392.6L230.5 394.1L230.8 394.5L231.2 393.4L231.5 391L231.9 387.5L232.2 383.4L232.5 379.4L232.9 376.1L233.2 373.9L233.6 373L233.9 373.5L234.3 375.1L234.6 377.2L234.9 379.2L235.3 380.6L235.6 380.9L236 379.9L236.3 377.6L236.6 374.3L237 370.7L237.3 367.2L237.7 364.5L238 363L238.3 363L238.7 364.5L239 367L239.4 370.1L239.7 373.4L240 376.1L240.4 377.8L240.7 378.2L241.1 377.4L241.4 375.5L241.7 373.2L242.1 370.9L242.4 369.1L242.8 368.4L243.1 368.8" fill="none" stroke="#d4162a" stroke-width="1.15" stroke-linejoin="round"/>
<path d="M43.1 240H243.7V409.6H43.1ZM43.1 296.8H243.7M43.1 353.3H243.7" fill="none" stroke="#222222" stroke-width="1.25"/>
<path d="M43.1 246.8h3.3M243.7 246.8h-3.3M43.1 257.6h1.4M243.7 257.6h-1.4M43.1 268.4h3.3M243.7 268.4h-3.3M43.1 279.2h1.4M243.7 279.2h-1.4M43.1 290h3.3M243.7 290h-3.3M68.2 240v2.2M68.2 296.8v-2.2M93.2 240v3M93.2 296.8v-3M118.3 240v2.2M118.3 296.8v-2.2M143.4 240v3M143.4 296.8v-3M168.5 240v2.2M168.5 296.8v-2.2M193.5 240v3M193.5 296.8v-3M218.6 240v2.2M218.6 296.8v-2.2M43.1 303.4h3.3M243.7 303.4h-3.3M43.1 314.2h1.4M243.7 314.2h-1.4M43.1 325.1h3.3M243.7 325.1h-3.3M43.1 335.9h1.4M243.7 335.9h-1.4M43.1 346.7h3.3M243.7 346.7h-3.3M68.2 296.8v2.2M68.2 353.3v-2.2M93.2 296.8v3M93.2 353.3v-3M118.3 296.8v2.2M118.3 353.3v-2.2M143.4 296.8v3M143.4 353.3v-3M168.5 296.8v2.2M168.5 353.3v-2.2M193.5 296.8v3M193.5 353.3v-3M218.6 296.8v2.2M218.6 353.3v-2.2M43.1 359.9h3.3M243.7 359.9h-3.3M43.1 370.7h1.4M243.7 370.7h-1.4M43.1 381.5h3.3M243.7 381.5h-3.3M43.1 392.3h1.4M243.7 392.3h-1.4M43.1 403.1h3.3M243.7 403.1h-3.3M68.2 353.3v2.2M68.2 409.6v-2.2M93.2 353.3v3M93.2 409.6v-3M118.3 353.3v2.2M118.3 409.6v-2.2M143.4 353.3v3M143.4 409.6v-3M168.5 353.3v2.2M168.5 409.6v-2.2M193.5 353.3v3M193.5 409.6v-3M218.6 353.3v2.2M218.6 409.6v-2.2" fill="none" stroke="#222222" stroke-width="1"/>
<text transform="translate(38.6 251) scale(0.95 1)" text-anchor="end" font-size="14.1">0.75</text>
<text transform="translate(38.6 272.4) scale(0.95 1)" text-anchor="end" font-size="14.1">0.00</text>
<text transform="translate(38.6 294.1) scale(0.95 1)" text-anchor="end" font-size="14.1">-0.75</text>
<text transform="translate(38.6 307.7) scale(0.95 1)" text-anchor="end" font-size="14.1">0.75</text>
<text transform="translate(38.6 329.1) scale(0.95 1)" text-anchor="end" font-size="14.1">0.00</text>
<text transform="translate(38.6 350.8) scale(0.95 1)" text-anchor="end" font-size="14.1">-0.75</text>
<text transform="translate(38.6 364.1) scale(0.95 1)" text-anchor="end" font-size="14.1">0.75</text>
<text transform="translate(38.6 385.5) scale(0.95 1)" text-anchor="end" font-size="14.1">0.00</text>
<text transform="translate(38.6 407.2) scale(0.95 1)" text-anchor="end" font-size="14.1">-0.75</text>
<text transform="translate(43.1 424.7) scale(0.935 1)" text-anchor="middle" font-size="14.1">8</text>
<text transform="translate(93.2 424.7) scale(0.935 1)" text-anchor="middle" font-size="14.1">10</text>
<text transform="translate(143.4 424.7) scale(0.935 1)" text-anchor="middle" font-size="14.1">12</text>
<text transform="translate(193.5 424.7) scale(0.935 1)" text-anchor="middle" font-size="14.1">14</text>
<text transform="translate(243.7 424.7) scale(0.935 1)" text-anchor="middle" font-size="14.1">16</text>
<text x="136.3" y="255.5" font-size="11.5">current with 0° waves</text>
<text x="126.3" y="310" font-size="12">current with 45° waves</text>
<text x="125.6" y="363.3" font-size="12">current with 90° waves</text>
<text x="135" y="434.2" font-size="14"><tspan font-style="italic">tf</tspan><tspan dy="3.2" font-size="10.5">n</tspan></text>
<text transform="translate(9.8 318.3) rotate(-90)" text-anchor="middle" font-size="14.2" font-style="italic">y/D</text>
<path d="M43.5 505L44.2 504.8L44.9 504.1L45.6 503.2L46.3 502.3L47 501.7L47.7 501.6L48.4 501.7L49.1 501.9L49.8 502.3L50.5 502.9L51.2 503.5L51.9 504.2L52.6 504.9L53.3 505.7L54 506.5L54.7 507.2L55.4 507.9L56.1 508.5L56.8 509L57.5 509.4L58.2 509.7L58.9 509.7L59.6 509.7L60.3 509.6L61 509.4L61.7 509.1L62.4 508.8L63.1 508.5L63.8 508.1L64.5 507.7L65.2 507.3L65.9 506.9L66.6 506.6L67.3 506.4L68 506.2L68.7 506.2L69.4 506.2L70.1 506.2L70.8 506.2L71.5 506.2L72.2 506.3L72.9 506.3L73.6 506.3L74.3 506.4L75 506.4L75.7 506.5L76.4 506.6L77.1 506.8L77.8 507L78.5 507.2L79.2 507.5L79.9 507.7L80.6 507.9L81.3 508L82 508.1L82.7 508.1L83.4 508.1L84.1 508.1L84.8 507.9L85.5 507.8L86.2 507.5L86.9 507.3L87.6 507L88.3 506.6L89 506.3L89.7 506L90.4 505.7L91.1 505.5L91.8 505.3L92.5 505.1L93.2 505L93.9 505L94.6 505L95.3 505.2L96 505.4L96.7 505.8L97.4 506.2L98.1 506.7L98.8 507.2L99.5 507.7L100.2 508.2L100.9 508.6L101.6 508.9L102.3 509.2L103 509.3L103.7 509.3L104.4 509.3L105.1 509.2L105.8 509L106.5 508.8L107.2 508.5L107.9 508.2L108.6 507.9L109.3 507.5L110 507.2L110.7 506.9L111.4 506.6L112.1 506.3L112.8 506.1L113.5 505.9L114.2 505.8L114.9 505.8L115.6 505.8L116.3 505.9L117 506L117.7 506.2L118.4 506.5L119.1 506.7L119.8 507.1L120.5 507.4L121.2 507.8L121.9 508.2L122.6 508.5L123.3 508.9L124 509.2L124.7 509.5L125.4 509.7L126.1 509.9L126.8 510.1L127.5 510.1L128.2 510.1L128.9 510.1L129.6 509.8L130.3 509.5L131 509.1L131.7 508.6L132.4 508L133.1 507.4L133.8 506.8L134.5 506.2L135.2 505.6L135.9 505L136.6 504.5L137.3 504.1L138 503.8L138.7 503.6L139.4 503.6L140.1 503.6L140.8 503.9L141.5 504.3L142.2 504.6L142.9 504.9L143.5 504.9" fill="none" stroke="#1c1c1c" stroke-width="1.15" stroke-linejoin="round"/>
<path d="M143.5 504.9L144.2 505L144.9 505.1L145.6 505.2L146.3 505.5L147 505.7L147.7 506.1L148.4 506.4L149.1 506.8L149.8 507.2L150.5 507.6L151.2 508.1L151.9 508.5L152.6 508.9L153.3 509.2L154 509.6L154.7 509.8L155.4 510.1L156.1 510.2L156.8 510.3L157.5 510.3L158.2 510.3L158.9 510.2L159.6 510L160.3 509.7L161 509.3L161.7 508.9L162.4 508.4L163.1 507.9L163.8 507.4L164.5 506.9L165.2 506.4L165.9 506L166.6 505.5L167.3 505.2L168 504.9L168.7 504.7L169.4 504.6L170.1 504.5L170.8 504.5L171.5 504.4L172.2 504.2L172.9 504.1L173.6 504L174.3 503.9L175 503.7L175.7 503.3L176.4 502.8L177.1 502.3L177.8 501.9L178.5 501.6L179.2 501.6L179.9 501.9L180.6 502.7L181.3 503.9L182 505.3L182.7 506.8L183.4 508.4L184.1 509.8L184.8 511L185.5 511.9L186.2 512.3L186.9 512.3L187.6 512L188.3 511.5L189 510.7L189.7 509.7L190.4 508.6L191.1 507.4L191.8 506L192.5 504.7L193.2 503.4L193.9 502.2L194.6 501.1L195.3 500.2L196 499.6L196.7 499.1L197.4 499L198.1 499.1L198.8 499.6L199.5 500.4L200.2 501.5L200.9 502.8L201.6 504.2L202.3 505.7L203 507L203.7 508.2L204.4 509.2L205.1 509.8L205.8 510.1L206.5 510.1L207.2 509.7L207.9 509.1L208.6 508.4L209.3 507.5L210 506.6L210.7 505.9L211.4 505.3L212.1 505L212.8 505L213.5 505.2L214.2 505.6L214.9 506.2L215.6 506.9L216.3 507.7L217 508.5L217.7 509.2L218.4 509.8L219.1 510.2L219.8 510.3L220.5 510.3L221.2 510.1L221.9 509.8L222.6 509.4L223.3 508.8L224 508.2L224.7 507.5L225.4 506.8L226.1 506L226.8 505.3L227.5 504.6L228.2 504.1L228.9 503.6L229.6 503.2L230.3 503L231 502.9L231.7 503L232.4 503.2L233.1 503.5L233.8 503.9L234.5 504.3L235.2 504.8L235.9 505.2L236.6 505.6L237.3 506L238 506.2L238.7 506.3L239.4 506.3L240.1 506L240.8 505.6L241.5 505.1L242.2 504.6L242.9 504.2L243.5 504.1" fill="none" stroke="#d4162a" stroke-width="1.15" stroke-linejoin="round"/>
<path d="M43.5 561.6L44.2 561.4L44.9 560.7L45.6 559.8L46.3 558.9L47 558.3L47.7 558.2L48.4 558.3L49.1 558.5L49.8 558.9L50.5 559.5L51.2 560.1L51.9 560.8L52.6 561.5L53.3 562.3L54 563.1L54.7 563.8L55.4 564.5L56.1 565.1L56.8 565.6L57.5 566L58.2 566.3L58.9 566.3L59.6 566.3L60.3 566.2L61 566L61.7 565.7L62.4 565.4L63.1 565.1L63.8 564.7L64.5 564.3L65.2 563.9L65.9 563.5L66.6 563.2L67.3 563L68 562.8L68.7 562.8L69.4 562.8L70.1 562.8L70.8 562.8L71.5 562.9L72.2 562.9L72.9 562.9L73.6 562.9L74.3 563L75 563L75.7 563.1L76.4 563.2L77.1 563.4L77.8 563.6L78.5 563.9L79.2 564.1L79.9 564.3L80.6 564.5L81.3 564.6L82 564.7L82.7 564.7L83.4 564.7L84.1 564.7L84.8 564.5L85.5 564.4L86.2 564.1L86.9 563.9L87.6 563.6L88.3 563.2L89 562.9L89.7 562.6L90.4 562.3L91.1 562.1L91.8 561.9L92.5 561.7L93.2 561.6L93.9 561.6L94.6 561.6L95.3 561.8L96 562L96.7 562.4L97.4 562.8L98.1 563.3L98.8 563.8L99.5 564.3L100.2 564.8L100.9 565.2L101.6 565.5L102.3 565.8L103 565.9L103.7 565.9L104.4 565.9L105.1 565.8L105.8 565.6L106.5 565.4L107.2 565.1L107.9 564.8L108.6 564.5L109.3 564.1L110 563.8L110.7 563.5L111.4 563.2L112.1 562.9L112.8 562.7L113.5 562.5L114.2 562.4L114.9 562.4L115.6 562.4L116.3 562.5L117 562.6L117.7 562.8L118.4 563.1L119.1 563.3L119.8 563.7L120.5 564L121.2 564.4L121.9 564.8L122.6 565.1L123.3 565.5L124 565.8L124.7 566.1L125.4 566.3L126.1 566.5L126.8 566.7L127.5 566.7L128.2 566.7L128.9 566.7L129.6 566.4L130.3 566.1L131 565.7L131.7 565.2L132.4 564.6L133.1 564L133.8 563.4L134.5 562.8L135.2 562.2L135.9 561.6L136.6 561.1L137.3 560.7L138 560.4L138.7 560.2L139.4 560.2L140.1 560.2L140.8 560.5L141.5 560.9L142.2 561.2L142.9 561.5L143.5 561.5" fill="none" stroke="#1c1c1c" stroke-width="1.15" stroke-linejoin="round"/>
<path d="M143.1 561.5L143.4 561.8L143.8 562.9L144.1 564.6L144.5 566.3L144.8 567.2L145.1 567L145.5 566.2L145.8 565.1L146.2 564L146.5 563.2L146.9 563.1L147.2 563.6L147.5 564.6L147.9 565.9L148.2 567.3L148.6 568.3L148.9 568.7L149.2 568.3L149.6 567.1L149.9 565.2L150.3 562.9L150.6 560.6L150.9 558.7L151.3 557.7L151.6 557.7L152 558.7L152.3 560.5L152.7 562.7L153 564.8L153.3 566.4L153.7 567.2L154 567L154.4 565.8L154.7 563.9L155 561.6L155.4 559.5L155.7 557.8L156.1 557L156.4 557.2L156.8 558.3L157.1 560.2L157.4 562.4L157.8 564.5L158.1 566.1L158.5 566.8L158.8 566.6L159.1 565.4L159.5 563.4L159.8 561.2L160.2 559.1L160.5 557.5L160.8 556.8L161.2 557.1L161.5 558.3L161.9 560.3L162.2 562.5L162.6 564.6L162.9 566.1L163.2 566.8L163.6 566.4L163.9 565.1L164.3 563.1L164.6 560.8L164.9 558.7L165.3 557.1L165.6 556.5L166 556.8L166.3 558.2L166.6 560.2L167 562.4L167.3 564.5L167.7 566L168 566.6L168.4 566.1L168.7 564.7L169 562.6L169.4 560.3L169.7 558.2L170.1 556.7L170.4 556.1L170.7 556.6L171.1 558L171.4 560.1L171.8 562.4L172.1 564.5L172.5 565.9L172.8 566.4L173.1 565.8L173.5 564.4L173.8 562.2L174.2 559.9L174.5 557.8L174.8 556.4L175.2 556L175.5 556.5L175.9 558L176.2 560.2L176.5 562.5L176.9 564.6L177.2 566L177.6 566.4L177.9 565.9L178.3 564.4L178.6 562.4L178.9 560.2L179.3 558.3L179.6 557.1L180 556.9L180.3 557.6L180.6 559.3L181 561.4L181.3 563.7L181.7 565.6L182 566.9L182.3 567.3L182.7 566.7L183 565.4L183.4 563.6L183.7 561.7L184.1 560.2L184.4 559.2L184.7 559.2L185.1 559.9L185.4 561.4L185.8 563.3L186.1 565.3L186.4 566.9L186.8 568L187.1 568.2L187.5 567.6L187.8 566.4L188.2 564.8L188.5 563.1L188.8 561.8L189.2 561L189.5 560.9L189.9 561.5L190.2 562.8L190.5 564.4L190.9 566L191.2 567.3L191.6 568L191.9 568L192.2 567.3L192.6 565.9L192.9 564.2L193.3 562.4L193.6 560.8L194 559.8L194.3 559.4L194.6 559.7L195 560.6L195.3 561.9L195.7 563.1L196 564.1L196.3 564.6L196.7 564.3L197 563.2L197.4 561.5L197.7 559.5L198 557.4L198.4 555.5L198.7 554.3L199.1 553.9L199.4 554.3L199.8 555.3L200.1 556.8L200.4 558.3L200.8 559.6L201.1 560.2L201.5 559.9L201.8 558.9L202.1 557.1L202.5 555L202.8 552.9L203.2 551.3L203.5 550.3L203.9 550.3L204.2 551.2L204.5 552.8L204.9 554.9L205.2 557L205.6 558.8L205.9 559.8L206.2 560.1L206.6 559.5L206.9 558.2L207.3 556.7L207.6 555.2L207.9 554.2L208.3 554L208.6 554.7L209 556.3L209.3 558.6L209.7 561.3L210 563.8L210.3 566L210.7 567.3L211 567.7L211.4 567.1L211.7 565.9L212 564.3L212.4 562.7L212.7 561.6L213.1 561.1L213.4 561.5L213.7 562.8L214.1 564.6L214.4 566.6L214.8 568.6L215.1 570L215.5 570.6L215.8 570.2L216.1 569L216.5 567.1L216.8 564.9L217.2 562.8L217.5 561.1L217.8 560.3L218.2 560.3L218.5 561.2L218.9 562.7L219.2 564.4L219.6 566.1L219.9 567.2L220.2 567.5L220.6 566.9L220.9 565.5L221.3 563.4L221.6 561.1L221.9 558.9L222.3 557.3L222.6 556.5L223 556.7L223.3 557.7L223.6 559.4L224 561.3L224.3 563.1L224.7 564.3L225 564.8L225.4 564.4L225.7 563.1L226 561.3L226.4 559.4L226.7 557.6L227.1 556.5L227.4 556.2L227.7 556.8L228.1 558.4L228.4 560.5L228.8 562.8L229.1 565L229.4 566.6L229.8 567.4L230.1 567.2L230.5 566.2L230.8 564.7L231.2 562.9L231.5 561.3L231.8 560.2L232.2 560L232.5 560.6L232.9 561.9L233.2 563.8L233.5 565.8L233.9 567.5L234.2 568.6L234.6 568.9L234.9 568.3L235.3 566.9L235.6 564.9L235.9 562.8L236.3 560.9L236.6 559.6L237 559.1L237.3 559.5L237.6 560.6L238 562.3L238.3 564.1L238.7 565.6L239 566.5L239.3 566.6L239.7 565.9L240 564.4L240.4 562.4L240.7 560.3L241.1 558.5L241.4 557.3L241.7 556.9L242.1 557.5L242.4 558.8L242.8 560.6L243.1 562.6" fill="none" stroke="#d4162a" stroke-width="1.15" stroke-linejoin="round"/>
<path d="M43.5 618.3L44.2 618L44.9 617.3L45.6 616.4L46.3 615.5L47 614.9L47.7 614.8L48.4 614.9L49.1 615.2L49.8 615.6L50.5 616.1L51.2 616.7L51.9 617.4L52.6 618.2L53.3 619L54 619.7L54.7 620.5L55.4 621.2L56.1 621.8L56.8 622.3L57.5 622.7L58.2 622.9L58.9 623L59.6 623L60.3 622.9L61 622.7L61.7 622.4L62.4 622.1L63.1 621.7L63.8 621.3L64.5 620.9L65.2 620.5L65.9 620.2L66.6 619.9L67.3 619.7L68 619.5L68.7 619.4L69.4 619.4L70.1 619.4L70.8 619.5L71.5 619.5L72.2 619.5L72.9 619.6L73.6 619.6L74.3 619.6L75 619.7L75.7 619.8L76.4 619.9L77.1 620.1L77.8 620.3L78.5 620.5L79.2 620.7L79.9 620.9L80.6 621.1L81.3 621.2L82 621.3L82.7 621.4L83.4 621.4L84.1 621.3L84.8 621.2L85.5 621L86.2 620.8L86.9 620.5L87.6 620.2L88.3 619.9L89 619.6L89.7 619.3L90.4 619L91.1 618.7L91.8 618.5L92.5 618.3L93.2 618.2L93.9 618.2L94.6 618.2L95.3 618.4L96 618.7L96.7 619L97.4 619.5L98.1 619.9L98.8 620.4L99.5 620.9L100.2 621.4L100.9 621.8L101.6 622.2L102.3 622.4L103 622.6L103.7 622.6L104.4 622.5L105.1 622.4L105.8 622.3L106.5 622L107.2 621.8L107.9 621.4L108.6 621.1L109.3 620.8L110 620.4L110.7 620.1L111.4 619.8L112.1 619.5L112.8 619.3L113.5 619.1L114.2 619L114.9 619L115.6 619L116.3 619.1L117 619.3L117.7 619.5L118.4 619.7L119.1 620L119.8 620.3L120.5 620.7L121.2 621L121.9 621.4L122.6 621.8L123.3 622.1L124 622.4L124.7 622.7L125.4 623L126.1 623.2L126.8 623.3L127.5 623.4L128.2 623.4L128.9 623.3L129.6 623.1L130.3 622.8L131 622.4L131.7 621.9L132.4 621.3L133.1 620.7L133.8 620.1L134.5 619.4L135.2 618.8L135.9 618.3L136.6 617.8L137.3 617.4L138 617.1L138.7 616.9L139.4 616.8L140.1 616.9L140.8 617.1L141.5 617.5L142.2 617.9L142.9 618.1L143.5 618.2" fill="none" stroke="#1c1c1c" stroke-width="1.15" stroke-linejoin="round"/>
<path d="M143.1 618.2L143.4 618.6L143.8 620.4L144.1 623.2L144.5 624.9L144.8 624.9L145.1 623.9L145.5 622.3L145.8 620.4L146.2 618.7L146.5 617.6L146.9 617.5L147.2 618.3L147.5 620L147.9 622.2L148.2 624.5L148.6 626.3L148.9 627.1L149.2 626.8L149.6 625.3L149.9 622.7L150.3 619.5L150.6 616.4L150.9 613.9L151.3 612.5L151.6 612.6L152 614.1L152.3 616.7L152.7 619.8L153 622.9L153.3 625.3L153.7 626.4L154 626.2L154.4 624.5L154.7 621.8L155 618.6L155.4 615.6L155.7 613.2L156.1 612.1L156.4 612.4L156.8 614.1L157.1 616.9L157.4 620.1L157.8 623.2L158.1 625.5L158.5 626.6L158.8 626.2L159.1 624.4L159.5 621.6L159.8 618.2L160.2 615.1L160.5 612.7L160.8 611.6L161.2 612L161.5 613.8L161.9 616.6L162.2 619.8L162.6 622.9L162.9 625L163.2 625.9L163.6 625.3L163.9 623.3L164.3 620.2L164.6 616.7L164.9 613.4L165.3 611L165.6 609.9L166 610.3L166.3 612.2L166.6 615.1L167 618.4L167.3 621.5L167.7 623.6L168 624.4L168.4 623.6L168.7 621.3L169 618.1L169.4 614.5L169.7 611.1L170.1 608.8L170.4 607.8L170.7 608.4L171.1 610.5L171.4 613.6L171.8 617.1L172.1 620.2L172.5 622.3L172.8 623L173.1 622.2L173.5 619.9L173.8 616.6L174.2 613L174.5 609.7L174.8 607.5L175.2 606.8L175.5 607.7L175.9 610L176.2 613.3L176.5 617L176.9 620.3L177.2 622.5L177.6 623.3L177.9 622.6L178.3 620.5L178.6 617.6L178.9 614.4L179.3 611.8L179.6 610.2L180 610.1L180.3 611.4L180.6 614.1L181 617.6L181.3 621.2L181.7 624.4L182 626.5L182.3 627.2L182.7 626.5L183 624.6L183.4 621.9L183.7 619.1L184.1 616.7L184.4 615.2L184.7 615L185.1 616.1L185.4 618.3L185.8 621L186.1 623.9L186.4 626.3L186.8 627.8L187.1 628.1L187.5 627L187.8 624.9L188.2 622.1L188.5 619.1L188.8 616.6L189.2 615L189.5 614.6L189.9 615.5L190.2 617.4L190.5 620.1L190.9 622.8L191.2 625.1L191.6 626.5L191.9 626.5L192.2 625.3L192.6 622.9L192.9 619.8L193.3 616.6L193.6 613.8L194 612.1L194.3 611.7L194.6 612.7L195 614.9L195.3 617.9L195.7 621L196 623.6L196.3 625L196.7 625.1L197 623.6L197.4 620.9L197.7 617.4L198 613.9L198.4 610.9L198.7 609.2L199.1 609L199.4 610.5L199.8 613.2L200.1 616.8L200.4 620.4L200.8 623.3L201.1 624.9L201.5 624.9L201.8 623.3L202.1 620.4L202.5 616.8L202.8 613.2L203.2 610.4L203.5 608.9L203.9 609.1L204.2 610.9L204.5 614L204.9 617.7L205.2 621.4L205.6 624.4L205.9 626L206.2 625.9L206.6 624.2L206.9 621.3L207.3 617.8L207.6 614.4L207.9 611.8L208.3 610.5L208.6 610.9L209 612.9L209.3 616L209.7 619.7L210 623.2L210.3 625.9L210.7 627.3L211 627.1L211.4 625.4L211.7 622.5L212 619.1L212.4 615.9L212.7 613.5L213.1 612.4L213.4 612.9L213.7 614.7L214.1 617.7L214.4 621.1L214.8 624.3L215.1 626.6L215.5 627.7L215.8 627.3L216.1 625.5L216.5 622.6L216.8 619.3L217.2 616.3L217.5 614L217.8 613L218.2 613.4L218.5 615.2L218.9 617.9L219.2 621.1L219.6 624L219.9 626.1L220.2 626.9L220.6 626.4L220.9 624.5L221.3 621.7L221.6 618.5L221.9 615.5L222.3 613.3L222.6 612.4L223 612.9L223.3 614.6L223.6 617.3L224 620.4L224.3 623.2L224.7 625.2L225 625.9L225.4 625.3L225.7 623.3L226 620.5L226.4 617.3L226.7 614.3L227.1 612.3L227.4 611.5L227.7 612.1L228.1 614L228.4 616.8L228.8 619.9L229.1 622.7L229.4 624.7L229.8 625.4L230.1 624.7L230.5 622.7L230.8 619.8L231.2 616.6L231.5 613.8L231.8 611.9L232.2 611.3L232.5 612.1L232.9 614.2L233.2 617.3L233.5 620.6L233.9 623.6L234.2 625.6L234.6 626.3L234.9 625.6L235.3 623.6L235.6 620.8L235.9 617.7L236.3 615L236.6 613.2L237 612.8L237.3 613.9L237.6 616.2L238 619.4L238.3 622.8L238.7 625.8L239 627.8L239.3 628.4L239.7 627.6L240 625.4L240.4 622.4L240.7 619.2L241.1 616.5L241.4 614.7L241.7 614.3L242.1 615.4L242.4 617.8L242.8 620.9L243.1 624.2" fill="none" stroke="#d4162a" stroke-width="1.15" stroke-linejoin="round"/>
<path d="M43.1 478.3H243.7V648.1H43.1ZM43.1 534.8H243.7M43.1 591.5H243.7" fill="none" stroke="#222222" stroke-width="1.25"/>
<path d="M43.1 484.9h3.3M243.7 484.9h-3.3M43.1 495.7h1.4M243.7 495.7h-1.4M43.1 506.5h3.3M243.7 506.5h-3.3M43.1 517.3h1.4M243.7 517.3h-1.4M43.1 528.1h3.3M243.7 528.1h-3.3M68.2 478.3v2.2M68.2 534.8v-2.2M93.2 478.3v3M93.2 534.8v-3M118.3 478.3v2.2M118.3 534.8v-2.2M143.4 478.3v3M143.4 534.8v-3M168.5 478.3v2.2M168.5 534.8v-2.2M193.5 478.3v3M193.5 534.8v-3M218.6 478.3v2.2M218.6 534.8v-2.2M43.1 541.5h3.3M243.7 541.5h-3.3M43.1 552.4h1.4M243.7 552.4h-1.4M43.1 563.1h3.3M243.7 563.1h-3.3M43.1 573.9h1.4M243.7 573.9h-1.4M43.1 584.8h3.3M243.7 584.8h-3.3M68.2 534.8v2.2M68.2 591.5v-2.2M93.2 534.8v3M93.2 591.5v-3M118.3 534.8v2.2M118.3 591.5v-2.2M143.4 534.8v3M143.4 591.5v-3M168.5 534.8v2.2M168.5 591.5v-2.2M193.5 534.8v3M193.5 591.5v-3M218.6 534.8v2.2M218.6 591.5v-2.2M43.1 598.2h3.3M243.7 598.2h-3.3M43.1 609h1.4M243.7 609h-1.4M43.1 619.8h3.3M243.7 619.8h-3.3M43.1 630.6h1.4M243.7 630.6h-1.4M43.1 641.4h3.3M243.7 641.4h-3.3M68.2 591.5v2.2M68.2 648.1v-2.2M93.2 591.5v3M93.2 648.1v-3M118.3 591.5v2.2M118.3 648.1v-2.2M143.4 591.5v3M143.4 648.1v-3M168.5 591.5v2.2M168.5 648.1v-2.2M193.5 591.5v3M193.5 648.1v-3M218.6 591.5v2.2M218.6 648.1v-2.2" fill="none" stroke="#222222" stroke-width="1"/>
<text transform="translate(38.6 489.1) scale(0.95 1)" text-anchor="end" font-size="14.1">0.75</text>
<text transform="translate(38.6 510.5) scale(0.95 1)" text-anchor="end" font-size="14.1">0.00</text>
<text transform="translate(38.6 532.2) scale(0.95 1)" text-anchor="end" font-size="14.1">-0.75</text>
<text transform="translate(38.6 545.8) scale(0.95 1)" text-anchor="end" font-size="14.1">0.75</text>
<text transform="translate(38.6 567.1) scale(0.95 1)" text-anchor="end" font-size="14.1">0.00</text>
<text transform="translate(38.6 588.9) scale(0.95 1)" text-anchor="end" font-size="14.1">-0.75</text>
<text transform="translate(38.6 602.4) scale(0.95 1)" text-anchor="end" font-size="14.1">0.75</text>
<text transform="translate(38.6 623.8) scale(0.95 1)" text-anchor="end" font-size="14.1">0.00</text>
<text transform="translate(38.6 645.5) scale(0.95 1)" text-anchor="end" font-size="14.1">-0.75</text>
<text transform="translate(43.1 663.2) scale(0.935 1)" text-anchor="middle" font-size="14.1">8</text>
<text transform="translate(93.2 663.2) scale(0.935 1)" text-anchor="middle" font-size="14.1">10</text>
<text transform="translate(143.4 663.2) scale(0.935 1)" text-anchor="middle" font-size="14.1">12</text>
<text transform="translate(193.5 663.2) scale(0.935 1)" text-anchor="middle" font-size="14.1">14</text>
<text transform="translate(243.7 663.2) scale(0.935 1)" text-anchor="middle" font-size="14.1">16</text>
<text x="131.3" y="492" font-size="12">current with 0° waves</text>
<text x="128.8" y="549" font-size="12">current with 45° waves</text>
<text x="128.8" y="603.8" font-size="12">current with 90° waves</text>
<text x="135" y="672.2" font-size="14"><tspan font-style="italic">tf</tspan><tspan dy="3.2" font-size="10.5">n</tspan></text>
<text transform="translate(9.8 556.7) rotate(-90)" text-anchor="middle" font-size="14.2" font-style="italic">y/D</text>
<path d="M309 66L313 72L317 60L321.5 43L325 70L331 84.4L335 94.5L339 102L343 112.5L349 117L355 121L359.5 130L362 150L365.5 128L367.6 139L371 127L374 122L377 128L379 132L382 131L385 135.7L388 138L391.4 146.6L395 139L400 135L404 140L408.5 144.8L412 143L416 141L421 148.5L424 146L427 145L431 149L436 150L440 148L443 148.5L447 153L450.6 157.6L456 161L461.5 155.8L466 156.5L470 155.8L476 157L483.5 157.6L487 160L490.8 161L495 159.5L498 161L501.7 161" fill="none" stroke="#2fa37c" stroke-width="1.1" stroke-linejoin="round" stroke-linecap="butt" stroke-dasharray="1.1 1.1"/>
<path d="M309 74.8L312 72L315 50L317.5 43L320 52L323 66L328 80L333.8 89.2L340 97.7L347.7 100.8L352 98.6L355.4 97.7L359 98.4L363 100.8L367 98L370.8 94.6L375.4 88.5L379.2 86L381.5 79.2L383.8 71.5L386 50L388 20L390 50L392 68L395 85L400 96L405 101L410 108L415 109.5L420 113L430 115L440 116L450.6 120L461.5 124.7L467 122L469.3 112L470.7 99L472.2 112L474 121L477 128L480 132L485 131.5L490.8 131L501.7 129.5" fill="none" stroke="#e84a55" stroke-width="1.3" stroke-linejoin="round" stroke-linecap="butt" stroke-dasharray="5.2 3.2"/>
<path d="M309 48L310.5 58L312 66L315 62L318.7 51L321.5 65L324.6 87L327.7 96L335.4 99L340 107L343 110.8L347 103L350.8 106L357 110.8L362 109.5L366 107L371 105.5L375.4 97.7L379 91.5L381.5 83.8L383.8 74.6L386 55L388 26L390 55L392 72L395 88L400 100L405 105L410 112L420 119L430 124L440 127L450 130.5L458 134L464 138.5L467 141L469 128L470.5 110L472 118L474 126.5L478 132L483.5 135.7L492 137.5L501.7 139" fill="none" stroke="#1818d8" stroke-width="1.5" stroke-linejoin="round" stroke-linecap="butt" stroke-dasharray="6 1.9 1.6 1.9"/>
<path d="M308.7 95.5L311 93L314 82L317 62L319.5 46.6L321.5 58L324.6 79.2L327 89L329.2 95.4L332 100.2L335.4 104.2L343 111.5L350.8 115.4L360 119.5L366.5 122L380 126L400 130.6L420 134.2L440 137.6L460 140.2L476 142L490 143.3L501.7 144.2" fill="none" stroke="#111111" stroke-width="1.6" stroke-linejoin="round" stroke-linecap="butt"/>
<circle cx="400" cy="135" r="1.5" fill="#2fa37c"/>
<circle cx="470" cy="155.8" r="1.5" fill="#2fa37c"/>
<path d="M305.2 6.6V166H503.6" fill="none" stroke="#3a3a3a" stroke-width="0.95"/>
<path d="M305.5 7h-2.8M305.5 34.8h-1.4M305.5 27.8h-1.4M305.5 22.8h-1.4M305.5 19h-1.4M305.5 15.8h-1.4M305.5 13.2h-1.4M305.5 10.9h-1.4M305.5 8.8h-1.4M305.5 46.8h-2.8M305.5 74.5h-1.4M305.5 67.5h-1.4M305.5 62.6h-1.4M305.5 58.7h-1.4M305.5 55.6h-1.4M305.5 52.9h-1.4M305.5 50.6h-1.4M305.5 48.6h-1.4M305.5 86.5h-2.8M305.5 114.3h-1.4M305.5 107.3h-1.4M305.5 102.3h-1.4M305.5 98.5h-1.4M305.5 95.3h-1.4M305.5 92.7h-1.4M305.5 90.4h-1.4M305.5 88.3h-1.4M305.5 126.2h-2.8M305.5 154h-1.4M305.5 147h-1.4M305.5 142.1h-1.4M305.5 138.2h-1.4M305.5 135.1h-1.4M305.5 132.4h-1.4M305.5 130.1h-1.4M305.5 128.1h-1.4M305.5 166h-2.8M305.2 165.7v2.4M321.7 165.7v1.9M338.2 165.7v2.4M354.7 165.7v1.9M371.2 165.7v2.4M387.7 165.7v1.9M404.2 165.7v2.4M420.7 165.7v1.9M437.2 165.7v2.4M453.7 165.7v1.9M470.2 165.7v2.4M486.7 165.7v1.9M503.2 165.7v2.4" fill="none" stroke="#222222" stroke-width="0.9"/>
<text transform="translate(301.8 11.2) scale(0.95 1)" text-anchor="end" font-size="14.1">0.1</text>
<text transform="translate(301.8 51) scale(0.95 1)" text-anchor="end" font-size="14.1">0.01</text>
<text transform="translate(301.8 90.7) scale(0.95 1)" text-anchor="end" font-size="14.1">0.001</text>
<text transform="translate(301.8 130.4) scale(0.95 1)" text-anchor="end" font-size="14.1">1E-4</text>
<text transform="translate(301.8 170.2) scale(0.95 1)" text-anchor="end" font-size="14.1">1E-5</text>
<text transform="translate(305.2 181.4) scale(0.935 1)" text-anchor="middle" font-size="14.1">0.0</text>
<text transform="translate(371.2 181.4) scale(0.935 1)" text-anchor="middle" font-size="14.1">0.4</text>
<text transform="translate(437.2 181.4) scale(0.935 1)" text-anchor="middle" font-size="14.1">0.8</text>
<text transform="translate(503.2 181.4) scale(0.935 1)" text-anchor="middle" font-size="14.1">1.2</text>
<text y="194.3" font-size="13"><tspan x="386.2" font-style="italic" font-size="14.6">f</tspan><tspan x="396.1" font-size="14.6">[</tspan><tspan font-style="italic">Hz</tspan><tspan font-size="14.6">]</tspan></text>
<text transform="translate(269.4 82.8) rotate(-90) scale(0.95 1)" text-anchor="middle" font-size="14.3">PSD</text>
<text x="311" y="38.5" font-size="14"><tspan font-style="italic">f</tspan><tspan dy="3" font-size="10">c</tspan></text>
<text x="388.5" y="19" font-size="14"><tspan font-style="italic">f</tspan><tspan dy="3" font-size="10">w</tspan></text>
<text x="345.5" y="75.5" font-size="14"><tspan font-style="italic">f</tspan><tspan dy="3" font-size="10">diff</tspan></text>
<text x="403.5" y="86.5" font-size="14"><tspan font-style="italic">f</tspan><tspan dy="3" font-size="10">sum</tspan></text>
<text x="474" y="95" font-size="14"><tspan font-style="italic">2f</tspan><tspan dy="3" font-size="10">w</tspan></text>
<path d="M424.8 11.6H453.4" stroke="#111111" stroke-width="1.4"/>
<text x="454.5" y="15.4" class="t115">Current-only</text>
<path d="M424.8 27.2H453.4" stroke="#e84a55" stroke-width="1.15" stroke-dasharray="4.6 3.8"/>
<text x="454.5" y="31" class="t115">90°</text>
<path d="M424.8 42.6H453.4" stroke="#1818d8" stroke-width="1.35" stroke-dasharray="6 1.9 1.6 1.9"/>
<text x="454.5" y="46.4" class="t115">45°</text>
<path d="M424.8 58H453.4" stroke="#2fa37c" stroke-width="1.0" stroke-dasharray="1.1 1.1"/>
<text x="454.5" y="61.8" class="t115">0°</text>
<text x="263.2" y="210" text-anchor="middle" class="t15">(a)</text>
<path d="M311.2 292.7L318 281L322.7 275.4L329.6 288L336.5 308.8L341.2 325.5L347 315.8L351.5 333L357 335L362 337.7L366.5 341L371 339L374.6 338.8L379 342.5L383.8 344.6L388 345L392 345.8L395.5 349.5L398.8 352.7L402 352L405.3 350.4L408.5 350L412.7 353.8L416 351.5L419.5 356L423 359.6L428 360.2L434.6 361.5L446 359.6L457 362L469.2 363.8L480.8 366L492 367.3L502.7 368.4" fill="none" stroke="#2fa37c" stroke-width="1.1" stroke-linejoin="round" stroke-linecap="butt" stroke-dasharray="1.1 1.1"/>
<path d="M311.2 289L317 338.8L323.2 260.4L329.6 295L335.4 308.8L342.3 312.3L345.8 325L354 332L363 338.8L370 319.2L377 332L382.2 325L387.8 261.5L393 315.8L400 341L405.3 327.3L411.5 350.4L423 353.8L434.6 359.6L446 363L452 359L460 362L464.6 358L469.2 345.8L476 383.8L482 366.5L492.3 367.7L499.2 373.5L502.7 371" fill="none" stroke="#e84a55" stroke-width="1.3" stroke-linejoin="round" stroke-linecap="butt" stroke-dasharray="5.2 3.2"/>
<path d="M311.2 298.5L318 290.4L323.2 260L327.3 284.6L332 302L341.2 320.8L347 311L353.8 321.5L362 320.3L370 319L381.5 321.5L387.8 274.2L394.2 326L400 325L405.3 322.5L410.4 330.8L423 333L446 336.5L464.6 340L469.2 344.6L473.8 340L488 341.2L502.7 342.3" fill="none" stroke="#1818d8" stroke-width="1.5" stroke-linejoin="round" stroke-linecap="butt" stroke-dasharray="6 1.9 1.6 1.9"/>
<path d="M311.2 289.2L317 274.2L323.2 256.2L327.3 281L333 295L341.2 307.7L347 308.8L357.3 313.5L368 316.8L370 315.6L372 317.9L387.3 322.7L403.3 325.4L405.3 321.4L407.3 326L423 328.5L446 333L469 336.5L486 338.2L502.7 339.5" fill="none" stroke="#111111" stroke-width="1.35" stroke-linejoin="round" stroke-linecap="butt"/>
<circle cx="370" cy="315.3" r="1.5" fill="#111111"/>
<circle cx="405.3" cy="320.6" r="1.5" fill="#111111"/>
<circle cx="434.6" cy="361.5" r="1.5" fill="#2fa37c"/>
<circle cx="480.8" cy="366" r="1.5" fill="#2fa37c"/>
<path d="M305.2 245.1V404.8H503.6" fill="none" stroke="#3a3a3a" stroke-width="0.95"/>
<path d="M305.5 245.5h-2.8M305.5 273.3h-1.4M305.5 266.3h-1.4M305.5 261.3h-1.4M305.5 257.5h-1.4M305.5 254.3h-1.4M305.5 251.7h-1.4M305.5 249.4h-1.4M305.5 247.3h-1.4M305.5 285.3h-2.8M305.5 313.2h-1.4M305.5 306.1h-1.4M305.5 301.2h-1.4M305.5 297.3h-1.4M305.5 294.2h-1.4M305.5 291.5h-1.4M305.5 289.2h-1.4M305.5 287.1h-1.4M305.5 325.1h-2.8M305.5 353h-1.4M305.5 346h-1.4M305.5 341h-1.4M305.5 337.1h-1.4M305.5 334h-1.4M305.5 331.3h-1.4M305.5 329h-1.4M305.5 327h-1.4M305.5 365h-2.8M305.5 392.8h-1.4M305.5 385.8h-1.4M305.5 380.8h-1.4M305.5 377h-1.4M305.5 373.8h-1.4M305.5 371.1h-1.4M305.5 368.8h-1.4M305.5 366.8h-1.4M305.5 404.8h-2.8M305.2 404.5v2.4M321.7 404.5v1.9M338.2 404.5v2.4M354.7 404.5v1.9M371.2 404.5v2.4M387.7 404.5v1.9M404.2 404.5v2.4M420.7 404.5v1.9M437.2 404.5v2.4M453.7 404.5v1.9M470.2 404.5v2.4M486.7 404.5v1.9M503.2 404.5v2.4" fill="none" stroke="#222222" stroke-width="0.9"/>
<text transform="translate(301.8 249.7) scale(0.95 1)" text-anchor="end" font-size="14.1">0.1</text>
<text transform="translate(301.8 289.5) scale(0.95 1)" text-anchor="end" font-size="14.1">0.01</text>
<text transform="translate(301.8 329.3) scale(0.95 1)" text-anchor="end" font-size="14.1">0.001</text>
<text transform="translate(301.8 369.2) scale(0.95 1)" text-anchor="end" font-size="14.1">1E-4</text>
<text transform="translate(301.8 409) scale(0.95 1)" text-anchor="end" font-size="14.1">1E-5</text>
<text transform="translate(305.2 419.8) scale(0.935 1)" text-anchor="middle" font-size="14.1">0.0</text>
<text transform="translate(371.2 419.8) scale(0.935 1)" text-anchor="middle" font-size="14.1">0.4</text>
<text transform="translate(437.2 419.8) scale(0.935 1)" text-anchor="middle" font-size="14.1">0.8</text>
<text transform="translate(503.2 419.8) scale(0.935 1)" text-anchor="middle" font-size="14.1">1.2</text>
<text y="432.2" font-size="13"><tspan x="386.2" font-style="italic" font-size="14.6">f</tspan><tspan x="396.1" font-size="14.6">[</tspan><tspan font-style="italic">Hz</tspan><tspan font-size="14.6">]</tspan></text>
<text transform="translate(269.4 321.2) rotate(-90) scale(0.95 1)" text-anchor="middle" font-size="14.3">PSD</text>
<text x="329.3" y="258" font-size="14"><tspan font-style="italic">f</tspan><tspan dy="3" font-size="10">c</tspan></text>
<text x="345.2" y="299.6" font-size="14"><tspan font-style="italic">f</tspan><tspan dy="3" font-size="10">diff</tspan></text>
<text x="388.9" y="261.8" font-size="14"><tspan font-style="italic">f</tspan><tspan dy="3" font-size="10">w</tspan></text>
<text x="407.5" y="312" font-size="14"><tspan font-style="italic">f</tspan><tspan dy="3" font-size="10">sum</tspan></text>
<path d="M432.5 245.5H459.5" stroke="#111111" stroke-width="1.4"/>
<text x="461.2" y="249.3" class="t115">Current-only</text>
<path d="M432.5 261.3H459.5" stroke="#e84a55" stroke-width="1.15" stroke-dasharray="4.6 3.8"/>
<text x="461.2" y="265.1" class="t115">90°</text>
<path d="M432.5 277H459.5" stroke="#1818d8" stroke-width="1.35" stroke-dasharray="6 1.9 1.6 1.9"/>
<text x="461.2" y="280.8" class="t115">45°</text>
<path d="M432.5 292.4H459.5" stroke="#2fa37c" stroke-width="1.0" stroke-dasharray="1.1 1.1"/>
<text x="461.2" y="296.2" class="t115">0°</text>
<text x="263.2" y="448.5" text-anchor="middle" class="t15">(b)</text>
<path d="M311.2 523.5L317 530.4L321.5 515.4L326.2 520L330.8 517.7L335.4 546.5L341.2 554.6L347 547.7L352.7 553.5L362 560.4L373.5 565L387.3 568.5L398.8 569.6L410.4 572L418.5 575.4L434.6 577.7L446 578.8L459.5 580L469.2 581L486 582.6L502.7 584" fill="none" stroke="#2fa37c" stroke-width="1.1" stroke-linejoin="round" stroke-linecap="butt" stroke-dasharray="1.1 1.1"/>
<path d="M311.2 535.5L315.8 535.5L323.8 524.6L329.6 520L333 539.6L336.5 558L341.2 567.3L347 555.8L350.4 567.3L357.3 568.5L368.8 555.8L375.8 562.7L382.2 560.4L387.3 499.2L392 560.4L396.5 572L401.2 582.3L407 575.4L413.8 585.8L417.3 573L423 580L428.8 574.2L439.2 581L446 582.3L455.4 581L464.6 582.3L469.2 570.8L472.7 581L475 598.5L479.6 591.5L492.3 593.8L499.2 596L502.7 593.8" fill="none" stroke="#e84a55" stroke-width="1.3" stroke-linejoin="round" stroke-linecap="butt" stroke-dasharray="5.2 3.2"/>
<path d="M311.2 543L317 537.3L326.2 515.4L332 528L336.5 567.3L341.8 598.5L347 544.2L351.5 569.6L357.3 569.6L366.5 561.5L373.5 569.6L381.5 563.8L387.3 506.2L393 562.7L398.8 568.5L403.5 576.5L407.5 577.5L411.5 575.4L420.8 581L430 583.5L441.5 587L453 588.5L464.6 590.4L469.2 587L473.8 589.2L478.5 595.5L482 593.8L492.3 599.6L502.7 603" fill="none" stroke="#1818d8" stroke-width="1.5" stroke-linejoin="round" stroke-linecap="butt" stroke-dasharray="6 1.9 1.6 1.9"/>
<path d="M311.2 544.2L316.2 551.2L321.5 522.3L327.3 522.3L336.5 569.2L347 568.5L352.7 572L356.8 580L362 572L373.5 587L377 583.5L382.7 587L387.3 585.8L393 589.2L398.8 588L408 590.4L415 591.5L423 592.7L446 596L469.2 599.6L502.7 603" fill="none" stroke="#111111" stroke-width="1.35" stroke-linejoin="round" stroke-linecap="butt"/>
<circle cx="418.5" cy="575.6" r="1.5" fill="#2fa37c"/>
<circle cx="459.5" cy="580" r="1.5" fill="#2fa37c"/>
<path d="M305.2 484V643.4H503.6" fill="none" stroke="#3a3a3a" stroke-width="0.95"/>
<path d="M305.5 484.4h-2.8M305.5 512.2h-1.4M305.5 505.2h-1.4M305.5 500.2h-1.4M305.5 496.4h-1.4M305.5 493.2h-1.4M305.5 490.6h-1.4M305.5 488.3h-1.4M305.5 486.2h-1.4M305.5 524.1h-2.8M305.5 551.9h-1.4M305.5 544.9h-1.4M305.5 540h-1.4M305.5 536.1h-1.4M305.5 533h-1.4M305.5 530.3h-1.4M305.5 528h-1.4M305.5 526h-1.4M305.5 563.9h-2.8M305.5 591.7h-1.4M305.5 584.7h-1.4M305.5 579.7h-1.4M305.5 575.9h-1.4M305.5 572.7h-1.4M305.5 570.1h-1.4M305.5 567.8h-1.4M305.5 565.7h-1.4M305.5 603.6h-2.8M305.5 631.4h-1.4M305.5 624.4h-1.4M305.5 619.5h-1.4M305.5 615.6h-1.4M305.5 612.5h-1.4M305.5 609.8h-1.4M305.5 607.5h-1.4M305.5 605.5h-1.4M305.5 643.4h-2.8M305.2 643.1v2.4M321.7 643.1v1.9M338.2 643.1v2.4M354.7 643.1v1.9M371.2 643.1v2.4M387.7 643.1v1.9M404.2 643.1v2.4M420.7 643.1v1.9M437.2 643.1v2.4M453.7 643.1v1.9M470.2 643.1v2.4M486.7 643.1v1.9M503.2 643.1v2.4" fill="none" stroke="#222222" stroke-width="0.9"/>
<text transform="translate(301.8 488.6) scale(0.95 1)" text-anchor="end" font-size="14.1">0.1</text>
<text transform="translate(301.8 528.4) scale(0.95 1)" text-anchor="end" font-size="14.1">0.01</text>
<text transform="translate(301.8 568.1) scale(0.95 1)" text-anchor="end" font-size="14.1">0.001</text>
<text transform="translate(301.8 607.9) scale(0.95 1)" text-anchor="end" font-size="14.1">1E-4</text>
<text transform="translate(301.8 647.6) scale(0.95 1)" text-anchor="end" font-size="14.1">1E-5</text>
<text transform="translate(305.2 658.1) scale(0.935 1)" text-anchor="middle" font-size="14.1">0.0</text>
<text transform="translate(371.2 658.1) scale(0.935 1)" text-anchor="middle" font-size="14.1">0.4</text>
<text transform="translate(437.2 658.1) scale(0.935 1)" text-anchor="middle" font-size="14.1">0.8</text>
<text transform="translate(503.2 658.1) scale(0.935 1)" text-anchor="middle" font-size="14.1">1.2</text>
<text y="670.3" font-size="13"><tspan x="386.2" font-style="italic" font-size="14.6">f</tspan><tspan x="396.1" font-size="14.6">[</tspan><tspan font-style="italic">Hz</tspan><tspan font-size="14.6">]</tspan></text>
<text transform="translate(269.4 560.2) rotate(-90) scale(0.95 1)" text-anchor="middle" font-size="14.3">PSD</text>
<text x="313.8" y="509.6" font-size="14"><tspan font-style="italic">f</tspan><tspan dy="3" font-size="10">c</tspan></text>
<text x="362.8" y="550" font-size="14"><tspan font-style="italic">f</tspan><tspan dy="3" font-size="10">diff</tspan></text>
<text x="389.8" y="498" font-size="14"><tspan font-style="italic">f</tspan><tspan dy="3" font-size="10">w</tspan></text>
<text x="403.8" y="565" font-size="14"><tspan font-style="italic">f</tspan><tspan dy="3" font-size="10">sum</tspan></text>
<text x="474.3" y="562.7" font-size="14"><tspan font-style="italic">2f</tspan><tspan dy="3" font-size="10">w</tspan></text>
<path d="M432.5 484.5H459.5" stroke="#111111" stroke-width="1.4"/>
<text x="461.2" y="488.3" class="t115">Current-only</text>
<path d="M432.5 500.3H459.5" stroke="#e84a55" stroke-width="1.15" stroke-dasharray="4.6 3.8"/>
<text x="461.2" y="504.1" class="t115">90°</text>
<path d="M432.5 515.8H459.5" stroke="#1818d8" stroke-width="1.35" stroke-dasharray="6 1.9 1.6 1.9"/>
<text x="461.2" y="519.6" class="t115">45°</text>
<path d="M432.5 531H459.5" stroke="#2fa37c" stroke-width="1.0" stroke-dasharray="1.1 1.1"/>
<text x="461.2" y="534.8" class="t115">0°</text>
<text x="263.2" y="691.3" text-anchor="middle" class="t15">(c)</text>
</svg>
</body>
</html>
